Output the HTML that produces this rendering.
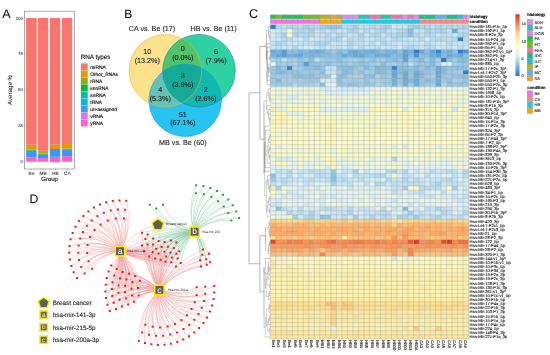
<!DOCTYPE html>
<html lang="en"><head><meta charset="utf-8"><title>Figure</title>
<style>
html,body{margin:0;padding:0;background:#fff;}
body{width:550px;height:355px;overflow:hidden;}
svg{display:block;font-family:'Liberation Sans', Arial, sans-serif;}
</style></head><body>
<svg width="550" height="355" viewBox="0 0 550 355" shape-rendering="auto" text-rendering="geometricPrecision">
<rect width="550" height="355" fill="#fff"/>
<g id="panelA">
<text x="2.20" y="17.50" font-size="12.5" text-anchor="start" fill="#000">A</text>
<rect x="24.6" y="11.2" width="49.80" height="157.80" fill="#fff" stroke="#7a7a7a" stroke-width="0.6"/>
<rect x="26.10" y="157.60" width="10.60" height="4.20" fill="#FF60C8"/>
<rect x="26.10" y="150.60" width="10.60" height="7.00" fill="#3A97FC"/>
<rect x="26.10" y="149.70" width="10.60" height="0.90" fill="#00B26A"/>
<rect x="26.10" y="144.80" width="10.60" height="4.90" fill="#E39A00"/>
<rect x="26.10" y="18.00" width="10.60" height="126.80" fill="#F8766D"/>
<rect x="38.00" y="158.10" width="10.20" height="3.70" fill="#FF60C8"/>
<rect x="38.00" y="154.70" width="10.20" height="3.40" fill="#3A97FC"/>
<rect x="38.00" y="153.60" width="10.20" height="1.10" fill="#00B26A"/>
<rect x="38.00" y="150.80" width="10.20" height="2.80" fill="#E39A00"/>
<rect x="38.00" y="18.00" width="10.20" height="132.80" fill="#F8766D"/>
<rect x="49.90" y="156.80" width="10.40" height="5.40" fill="#FF60C8"/>
<rect x="49.90" y="150.00" width="10.40" height="6.80" fill="#3A97FC"/>
<rect x="49.90" y="149.10" width="10.40" height="0.90" fill="#00B26A"/>
<rect x="49.90" y="144.80" width="10.40" height="4.30" fill="#E39A00"/>
<rect x="49.90" y="18.00" width="10.40" height="126.80" fill="#F8766D"/>
<rect x="62.00" y="156.10" width="10.20" height="5.70" fill="#FF60C8"/>
<rect x="62.00" y="149.70" width="10.20" height="6.40" fill="#3A97FC"/>
<rect x="62.00" y="148.80" width="10.20" height="0.90" fill="#00B26A"/>
<rect x="62.00" y="144.00" width="10.20" height="4.80" fill="#E39A00"/>
<rect x="62.00" y="18.00" width="10.20" height="126.00" fill="#F8766D"/>
<line x1="23.6" x2="24.6" y1="161.80" y2="161.80" stroke="#444" stroke-width="0.4"/>
<text x="22.80" y="163.30" font-size="4.3" text-anchor="end" fill="#4d4d4d" stroke="#4d4d4d" stroke-width="0.112">0</text>
<line x1="23.6" x2="24.6" y1="125.85" y2="125.85" stroke="#444" stroke-width="0.4"/>
<text x="22.80" y="127.35" font-size="4.3" text-anchor="end" fill="#4d4d4d" stroke="#4d4d4d" stroke-width="0.112">25</text>
<line x1="23.6" x2="24.6" y1="89.90" y2="89.90" stroke="#444" stroke-width="0.4"/>
<text x="22.80" y="91.40" font-size="4.3" text-anchor="end" fill="#4d4d4d" stroke="#4d4d4d" stroke-width="0.112">50</text>
<line x1="23.6" x2="24.6" y1="53.95" y2="53.95" stroke="#444" stroke-width="0.4"/>
<text x="22.80" y="55.45" font-size="4.3" text-anchor="end" fill="#4d4d4d" stroke="#4d4d4d" stroke-width="0.112">75</text>
<line x1="23.6" x2="24.6" y1="18.00" y2="18.00" stroke="#444" stroke-width="0.4"/>
<text x="22.80" y="19.50" font-size="4.3" text-anchor="end" fill="#4d4d4d" stroke="#4d4d4d" stroke-width="0.112">100</text>
<line x1="31.4" x2="31.4" y1="169.0" y2="170.2" stroke="#444" stroke-width="0.4"/>
<text x="31.40" y="174.50" font-size="4.8" text-anchor="middle" fill="#4d4d4d" stroke="#4d4d4d" stroke-width="0.125">Be</text>
<line x1="43.1" x2="43.1" y1="169.0" y2="170.2" stroke="#444" stroke-width="0.4"/>
<text x="43.10" y="174.50" font-size="4.8" text-anchor="middle" fill="#4d4d4d" stroke="#4d4d4d" stroke-width="0.125">MB</text>
<line x1="55.4" x2="55.4" y1="169.0" y2="170.2" stroke="#444" stroke-width="0.4"/>
<text x="55.40" y="174.50" font-size="4.8" text-anchor="middle" fill="#4d4d4d" stroke="#4d4d4d" stroke-width="0.125">HB</text>
<line x1="67.3" x2="67.3" y1="169.0" y2="170.2" stroke="#444" stroke-width="0.4"/>
<text x="67.30" y="174.50" font-size="4.8" text-anchor="middle" fill="#4d4d4d" stroke="#4d4d4d" stroke-width="0.125">CA</text>
<text x="49.60" y="180.60" font-size="6" text-anchor="middle" fill="#000" stroke="#000" stroke-width="0.090">Group</text>
<text transform="translate(11.9,90) rotate(-90)" font-size="6.2" text-anchor="middle">Average %</text>
<text x="80.70" y="59.00" font-size="6.3" text-anchor="start" fill="#000" stroke="#000" stroke-width="0.095">RNA types</text>
<rect x="80.9" y="63.40" width="6.8" height="6.8" fill="#F8766D"/>
<text x="90.30" y="68.50" font-size="4.9" text-anchor="start" fill="#000" stroke="#000" stroke-width="0.127">miRNA</text>
<rect x="80.9" y="70.43" width="6.8" height="6.8" fill="#E39A00"/>
<text x="90.30" y="75.53" font-size="4.9" text-anchor="start" fill="#000" stroke="#000" stroke-width="0.127">Other_RNAs</text>
<rect x="80.9" y="77.46" width="6.8" height="6.8" fill="#93AA00"/>
<text x="90.30" y="82.56" font-size="4.9" text-anchor="start" fill="#000" stroke="#000" stroke-width="0.127">rRNA</text>
<rect x="80.9" y="84.49" width="6.8" height="6.8" fill="#00BA38"/>
<text x="90.30" y="89.59" font-size="4.9" text-anchor="start" fill="#000" stroke="#000" stroke-width="0.127">snoRNA</text>
<rect x="80.9" y="91.52" width="6.8" height="6.8" fill="#00C19F"/>
<text x="90.30" y="96.62" font-size="4.9" text-anchor="start" fill="#000" stroke="#000" stroke-width="0.127">snRNA</text>
<rect x="80.9" y="98.55" width="6.8" height="6.8" fill="#00B9E3"/>
<text x="90.30" y="103.65" font-size="4.9" text-anchor="start" fill="#000" stroke="#000" stroke-width="0.127">tRNA</text>
<rect x="80.9" y="105.58" width="6.8" height="6.8" fill="#3A97FC"/>
<text x="90.30" y="110.68" font-size="4.9" text-anchor="start" fill="#000" stroke="#000" stroke-width="0.127">un-assigned</text>
<rect x="80.9" y="112.61" width="6.8" height="6.8" fill="#DB72FB"/>
<text x="90.30" y="117.71" font-size="4.9" text-anchor="start" fill="#000" stroke="#000" stroke-width="0.127">vRNA</text>
<rect x="80.9" y="119.64" width="6.8" height="6.8" fill="#FF60C8"/>
<text x="90.30" y="124.74" font-size="4.9" text-anchor="start" fill="#000" stroke="#000" stroke-width="0.127">yRNA</text>
</g>
<g id="panelB">
<text x="124.20" y="17.80" font-size="12" text-anchor="start" fill="#000">B</text>
<defs><clipPath id="cy"><circle cx="165.4" cy="70.7" r="36.3" /></clipPath><clipPath id="cg"><circle cx="199.0" cy="70.7" r="36.3" /></clipPath></defs>
<circle cx="165.4" cy="70.7" r="36.3" fill="#FCE28C"/>
<circle cx="199.0" cy="70.7" r="36.3" fill="#2DD2A0"/>
<circle cx="185.2" cy="100.3" r="36.3" fill="#28C3F0"/>
<circle cx="199.0" cy="70.7" r="36.3" fill="#50C369" clip-path="url(#cy)"/>
<circle cx="185.2" cy="100.3" r="36.3" fill="#64C3B4" clip-path="url(#cy)"/>
<circle cx="185.2" cy="100.3" r="36.3" fill="#0FB9AF" clip-path="url(#cg)"/>
<g clip-path="url(#cy)"><circle cx="185.2" cy="100.3" r="36.3" fill="#14AA96" clip-path="url(#cg)"/></g>
<circle cx="165.4" cy="70.7" r="36.3" fill="none" stroke="#E5B93A" stroke-width="0.6"/>
<circle cx="199.0" cy="70.7" r="36.3" fill="none" stroke="#1F80B8" stroke-width="0.6"/>
<circle cx="185.2" cy="100.3" r="36.3" fill="none" stroke="#1C9AD8" stroke-width="0.6"/>
<text x="152.00" y="30.90" font-size="7.2" text-anchor="middle" fill="#222" stroke="#222" stroke-width="0.108">CA vs. Be (17)</text>
<text x="213.60" y="30.90" font-size="7.2" text-anchor="middle" fill="#222" stroke="#222" stroke-width="0.108">HB vs. Be (11)</text>
<text x="182.80" y="145.20" font-size="7.2" text-anchor="middle" fill="#222" stroke="#222" stroke-width="0.108">MB vs. Be (60)</text>
<text x="147.30" y="54.00" font-size="7.2" text-anchor="middle" fill="#1a1a1a" stroke="#1a1a1a" stroke-width="0.108">10</text>
<text x="147.30" y="62.80" font-size="7.2" text-anchor="middle" fill="#1a1a1a" stroke="#1a1a1a" stroke-width="0.108">(13.2%)</text>
<text x="182.80" y="51.00" font-size="7.2" text-anchor="middle" fill="#1a1a1a" stroke="#1a1a1a" stroke-width="0.108">0</text>
<text x="182.80" y="59.80" font-size="7.2" text-anchor="middle" fill="#1a1a1a" stroke="#1a1a1a" stroke-width="0.108">(0.0%)</text>
<text x="216.00" y="54.00" font-size="7.2" text-anchor="middle" fill="#1a1a1a" stroke="#1a1a1a" stroke-width="0.108">6</text>
<text x="216.00" y="62.80" font-size="7.2" text-anchor="middle" fill="#1a1a1a" stroke="#1a1a1a" stroke-width="0.108">(7.9%)</text>
<text x="182.80" y="78.30" font-size="7.2" text-anchor="middle" fill="#1a1a1a" stroke="#1a1a1a" stroke-width="0.108">3</text>
<text x="182.80" y="87.10" font-size="7.2" text-anchor="middle" fill="#1a1a1a" stroke="#1a1a1a" stroke-width="0.108">(3.9%)</text>
<text x="160.30" y="91.70" font-size="7.2" text-anchor="middle" fill="#1a1a1a" stroke="#1a1a1a" stroke-width="0.108">4</text>
<text x="160.30" y="100.50" font-size="7.2" text-anchor="middle" fill="#1a1a1a" stroke="#1a1a1a" stroke-width="0.108">(5.3%)</text>
<text x="205.80" y="91.70" font-size="7.2" text-anchor="middle" fill="#1a1a1a" stroke="#1a1a1a" stroke-width="0.108">2</text>
<text x="205.80" y="100.50" font-size="7.2" text-anchor="middle" fill="#1a1a1a" stroke="#1a1a1a" stroke-width="0.108">(2.6%)</text>
<text x="182.80" y="116.60" font-size="7.2" text-anchor="middle" fill="#1a1a1a" stroke="#1a1a1a" stroke-width="0.108">51</text>
<text x="182.80" y="125.40" font-size="7.2" text-anchor="middle" fill="#1a1a1a" stroke="#1a1a1a" stroke-width="0.108">(67.1%)</text>
</g>
<g id="panelC">
<text x="249.00" y="17.90" font-size="12.7" text-anchor="start" fill="#000">C</text>
<rect x="270.30" y="14.9" width="5.508" height="3.9" fill="#10CA4E" stroke="#8C8C8C" stroke-width="0.32"/>
<rect x="270.30" y="19.7" width="5.508" height="3.9" fill="#F96EE6" stroke="#8C8C8C" stroke-width="0.32"/>
<rect x="275.81" y="14.9" width="5.508" height="3.9" fill="#6DC016" stroke="#8C8C8C" stroke-width="0.32"/>
<rect x="275.81" y="19.7" width="5.508" height="3.9" fill="#F96EE6" stroke="#8C8C8C" stroke-width="0.32"/>
<rect x="281.32" y="14.9" width="5.508" height="3.9" fill="#10CA4E" stroke="#8C8C8C" stroke-width="0.32"/>
<rect x="281.32" y="19.7" width="5.508" height="3.9" fill="#F96EE6" stroke="#8C8C8C" stroke-width="0.32"/>
<rect x="286.82" y="14.9" width="5.508" height="3.9" fill="#10CA4E" stroke="#8C8C8C" stroke-width="0.32"/>
<rect x="286.82" y="19.7" width="5.508" height="3.9" fill="#F96EE6" stroke="#8C8C8C" stroke-width="0.32"/>
<rect x="292.33" y="14.9" width="5.508" height="3.9" fill="#10CA4E" stroke="#8C8C8C" stroke-width="0.32"/>
<rect x="292.33" y="19.7" width="5.508" height="3.9" fill="#F96EE6" stroke="#8C8C8C" stroke-width="0.32"/>
<rect x="297.84" y="14.9" width="5.508" height="3.9" fill="#10CA4E" stroke="#8C8C8C" stroke-width="0.32"/>
<rect x="297.84" y="19.7" width="5.508" height="3.9" fill="#F96EE6" stroke="#8C8C8C" stroke-width="0.32"/>
<rect x="303.35" y="14.9" width="5.508" height="3.9" fill="#6DC016" stroke="#8C8C8C" stroke-width="0.32"/>
<rect x="303.35" y="19.7" width="5.508" height="3.9" fill="#F96EE6" stroke="#8C8C8C" stroke-width="0.32"/>
<rect x="308.86" y="14.9" width="5.508" height="3.9" fill="#6DC016" stroke="#8C8C8C" stroke-width="0.32"/>
<rect x="308.86" y="19.7" width="5.508" height="3.9" fill="#F96EE6" stroke="#8C8C8C" stroke-width="0.32"/>
<rect x="314.36" y="14.9" width="5.508" height="3.9" fill="#6DC016" stroke="#8C8C8C" stroke-width="0.32"/>
<rect x="314.36" y="19.7" width="5.508" height="3.9" fill="#F96EE6" stroke="#8C8C8C" stroke-width="0.32"/>
<rect x="319.87" y="14.9" width="5.508" height="3.9" fill="#B8B414" stroke="#8C8C8C" stroke-width="0.32"/>
<rect x="319.87" y="19.7" width="5.508" height="3.9" fill="#F3A713" stroke="#8C8C8C" stroke-width="0.32"/>
<rect x="325.38" y="14.9" width="5.508" height="3.9" fill="#B8B414" stroke="#8C8C8C" stroke-width="0.32"/>
<rect x="325.38" y="19.7" width="5.508" height="3.9" fill="#F3A713" stroke="#8C8C8C" stroke-width="0.32"/>
<rect x="330.89" y="14.9" width="5.508" height="3.9" fill="#FB9B3A" stroke="#8C8C8C" stroke-width="0.32"/>
<rect x="330.89" y="19.7" width="5.508" height="3.9" fill="#F3A713" stroke="#8C8C8C" stroke-width="0.32"/>
<rect x="336.40" y="14.9" width="5.508" height="3.9" fill="#B8B414" stroke="#8C8C8C" stroke-width="0.32"/>
<rect x="336.40" y="19.7" width="5.508" height="3.9" fill="#F3A713" stroke="#8C8C8C" stroke-width="0.32"/>
<rect x="341.90" y="14.9" width="5.508" height="3.9" fill="#E08BF3" stroke="#8C8C8C" stroke-width="0.32"/>
<rect x="341.90" y="19.7" width="5.508" height="3.9" fill="#14CFE6" stroke="#8C8C8C" stroke-width="0.32"/>
<rect x="347.41" y="14.9" width="5.508" height="3.9" fill="#E08BF3" stroke="#8C8C8C" stroke-width="0.32"/>
<rect x="347.41" y="19.7" width="5.508" height="3.9" fill="#14CFE6" stroke="#8C8C8C" stroke-width="0.32"/>
<rect x="352.92" y="14.9" width="5.508" height="3.9" fill="#E08BF3" stroke="#8C8C8C" stroke-width="0.32"/>
<rect x="352.92" y="19.7" width="5.508" height="3.9" fill="#14CFE6" stroke="#8C8C8C" stroke-width="0.32"/>
<rect x="358.43" y="14.9" width="5.508" height="3.9" fill="#1CC8B8" stroke="#8C8C8C" stroke-width="0.32"/>
<rect x="358.43" y="19.7" width="5.508" height="3.9" fill="#14CFE6" stroke="#8C8C8C" stroke-width="0.32"/>
<rect x="363.94" y="14.9" width="5.508" height="3.9" fill="#1CC8B8" stroke="#8C8C8C" stroke-width="0.32"/>
<rect x="363.94" y="19.7" width="5.508" height="3.9" fill="#14CFE6" stroke="#8C8C8C" stroke-width="0.32"/>
<rect x="369.44" y="14.9" width="5.508" height="3.9" fill="#FB6CB7" stroke="#8C8C8C" stroke-width="0.32"/>
<rect x="369.44" y="19.7" width="5.508" height="3.9" fill="#14CFE6" stroke="#8C8C8C" stroke-width="0.32"/>
<rect x="374.95" y="14.9" width="5.508" height="3.9" fill="#FB6CB7" stroke="#8C8C8C" stroke-width="0.32"/>
<rect x="374.95" y="19.7" width="5.508" height="3.9" fill="#14CFE6" stroke="#8C8C8C" stroke-width="0.32"/>
<rect x="380.46" y="14.9" width="5.508" height="3.9" fill="#1CC8B8" stroke="#8C8C8C" stroke-width="0.32"/>
<rect x="380.46" y="19.7" width="5.508" height="3.9" fill="#14CFE6" stroke="#8C8C8C" stroke-width="0.32"/>
<rect x="385.97" y="14.9" width="5.508" height="3.9" fill="#1CC8B8" stroke="#8C8C8C" stroke-width="0.32"/>
<rect x="385.97" y="19.7" width="5.508" height="3.9" fill="#14CFE6" stroke="#8C8C8C" stroke-width="0.32"/>
<rect x="391.48" y="14.9" width="5.508" height="3.9" fill="#FB6CB7" stroke="#8C8C8C" stroke-width="0.32"/>
<rect x="391.48" y="19.7" width="5.508" height="3.9" fill="#14CFE6" stroke="#8C8C8C" stroke-width="0.32"/>
<rect x="396.98" y="14.9" width="5.508" height="3.9" fill="#FB6CB7" stroke="#8C8C8C" stroke-width="0.32"/>
<rect x="396.98" y="19.7" width="5.508" height="3.9" fill="#14CFE6" stroke="#8C8C8C" stroke-width="0.32"/>
<rect x="402.49" y="14.9" width="5.508" height="3.9" fill="#E08BF3" stroke="#8C8C8C" stroke-width="0.32"/>
<rect x="402.49" y="19.7" width="5.508" height="3.9" fill="#14CFE6" stroke="#8C8C8C" stroke-width="0.32"/>
<rect x="408.00" y="14.9" width="5.508" height="3.9" fill="#FB6CB7" stroke="#8C8C8C" stroke-width="0.32"/>
<rect x="408.00" y="19.7" width="5.508" height="3.9" fill="#14CFE6" stroke="#8C8C8C" stroke-width="0.32"/>
<rect x="413.51" y="14.9" width="5.508" height="3.9" fill="#E08BF3" stroke="#8C8C8C" stroke-width="0.32"/>
<rect x="413.51" y="19.7" width="5.508" height="3.9" fill="#14CFE6" stroke="#8C8C8C" stroke-width="0.32"/>
<rect x="419.02" y="14.9" width="5.508" height="3.9" fill="#0CC77E" stroke="#8C8C8C" stroke-width="0.32"/>
<rect x="419.02" y="19.7" width="5.508" height="3.9" fill="#F38B85" stroke="#8C8C8C" stroke-width="0.32"/>
<rect x="424.52" y="14.9" width="5.508" height="3.9" fill="#0CC77E" stroke="#8C8C8C" stroke-width="0.32"/>
<rect x="424.52" y="19.7" width="5.508" height="3.9" fill="#F38B85" stroke="#8C8C8C" stroke-width="0.32"/>
<rect x="430.03" y="14.9" width="5.508" height="3.9" fill="#0CC77E" stroke="#8C8C8C" stroke-width="0.32"/>
<rect x="430.03" y="19.7" width="5.508" height="3.9" fill="#F38B85" stroke="#8C8C8C" stroke-width="0.32"/>
<rect x="435.54" y="14.9" width="5.508" height="3.9" fill="#58B2FB" stroke="#8C8C8C" stroke-width="0.32"/>
<rect x="435.54" y="19.7" width="5.508" height="3.9" fill="#F38B85" stroke="#8C8C8C" stroke-width="0.32"/>
<rect x="441.05" y="14.9" width="5.508" height="3.9" fill="#58B2FB" stroke="#8C8C8C" stroke-width="0.32"/>
<rect x="441.05" y="19.7" width="5.508" height="3.9" fill="#F38B85" stroke="#8C8C8C" stroke-width="0.32"/>
<rect x="446.56" y="14.9" width="5.508" height="3.9" fill="#0CC77E" stroke="#8C8C8C" stroke-width="0.32"/>
<rect x="446.56" y="19.7" width="5.508" height="3.9" fill="#F38B85" stroke="#8C8C8C" stroke-width="0.32"/>
<rect x="452.06" y="14.9" width="5.508" height="3.9" fill="#0CC77E" stroke="#8C8C8C" stroke-width="0.32"/>
<rect x="452.06" y="19.7" width="5.508" height="3.9" fill="#F38B85" stroke="#8C8C8C" stroke-width="0.32"/>
<rect x="457.57" y="14.9" width="5.508" height="3.9" fill="#19C0EA" stroke="#8C8C8C" stroke-width="0.32"/>
<rect x="457.57" y="19.7" width="5.508" height="3.9" fill="#F38B85" stroke="#8C8C8C" stroke-width="0.32"/>
<rect x="463.08" y="14.9" width="5.508" height="3.9" fill="#F07BEF" stroke="#8C8C8C" stroke-width="0.32"/>
<rect x="463.08" y="19.7" width="5.508" height="3.9" fill="#F38B85" stroke="#8C8C8C" stroke-width="0.32"/>
<g transform="translate(270.3,24.74) scale(5.508,4.135)">
<path fill="#2A7DC8" d="M0 0h1v1h-1zM34 3h1v1h-1zM26 6h1v1h-1zM34 6h1v1h-1zM31 8h1v1h-1zM35 11h1v1h-1z"/>
<path fill="#3182CA" d="M3 10h1v1h-1z"/>
<path fill="#3786CC" d="M30 6h1v1h-1zM22 10h1v1h-1z"/>
<path fill="#4A94D1" d="M35 6h1v1h-1zM26 7h1v1h-1z"/>
<path fill="#569CD5" d="M2 6h1v1h-1zM2 7h1v1h-1zM30 7h1v1h-1zM6 9h1v1h-1z"/>
<path fill="#5CA1D7" d="M24 7h1v1h-1z"/>
<path fill="#63A6D9" d="M24 6h1v1h-1zM27 6h1v1h-1zM29 6h1v1h-1zM1 7h1v1h-1zM5 7h1v1h-1zM16 7h1v1h-1zM24 8h1v1h-1zM30 11h1v1h-1zM30 14h1v1h-1z"/>
<path fill="#69AADB" d="M33 1h1v1h-1zM0 6h1v1h-1zM8 6h1v1h-1zM15 6h1v1h-1zM18 6h1v1h-1zM4 7h1v1h-1zM13 7h1v1h-1zM15 7h1v1h-1zM19 7h1v1h-1zM29 7h1v1h-1zM32 7h1v1h-1zM34 7h1v1h-1zM30 10h1v1h-1zM22 11h1v1h-1zM22 12h1v1h-1zM30 12h1v1h-1zM26 13h1v1h-1z"/>
<path fill="#6FAEDD" d="M7 6h1v1h-1zM14 6h1v1h-1zM17 6h1v1h-1zM22 6h1v1h-1zM32 6h1v1h-1zM3 7h1v1h-1zM20 7h1v1h-1zM21 7h1v1h-1zM24 11h1v1h-1zM26 11h1v1h-1zM24 12h1v1h-1zM26 12h1v1h-1zM22 13h1v1h-1zM24 13h1v1h-1zM30 13h1v1h-1zM26 14h1v1h-1z"/>
<path fill="#75B3DF" d="M1 6h1v1h-1zM5 6h1v1h-1zM9 6h1v1h-1zM16 6h1v1h-1zM19 6h1v1h-1zM21 6h1v1h-1zM25 6h1v1h-1zM0 7h1v1h-1zM7 7h1v1h-1zM14 7h1v1h-1zM17 7h1v1h-1zM33 7h1v1h-1zM22 14h1v1h-1zM24 14h1v1h-1z"/>
<path fill="#7CB8E1" d="M6 6h1v1h-1zM20 6h1v1h-1zM31 6h1v1h-1zM6 7h1v1h-1zM8 7h1v1h-1zM23 7h1v1h-1zM1 10h1v1h-1zM19 10h1v1h-1z"/>
<path fill="#82BCE3" d="M12 6h1v1h-1zM9 7h1v1h-1zM12 7h1v1h-1zM18 7h1v1h-1zM22 7h1v1h-1zM25 7h1v1h-1zM31 7h1v1h-1zM27 8h1v1h-1zM29 8h1v1h-1zM29 9h1v1h-1zM8 10h1v1h-1zM14 10h1v1h-1zM17 10h1v1h-1zM20 10h1v1h-1zM26 10h1v1h-1zM28 10h1v1h-1zM31 10h1v1h-1zM1 11h1v1h-1zM2 11h1v1h-1zM19 11h1v1h-1zM23 11h1v1h-1zM27 11h1v1h-1zM31 11h1v1h-1zM5 12h1v1h-1zM7 12h1v1h-1zM18 12h1v1h-1zM27 12h1v1h-1zM1 13h1v1h-1zM25 13h1v1h-1zM28 13h1v1h-1zM24 44h1v1h-1z"/>
<path fill="#88C0E4" d="M25 1h1v1h-1zM3 6h1v1h-1zM4 6h1v1h-1zM10 6h1v1h-1zM23 6h1v1h-1zM28 6h1v1h-1zM33 6h1v1h-1zM10 7h1v1h-1zM27 7h1v1h-1zM28 7h1v1h-1zM35 7h1v1h-1zM7 8h1v1h-1zM12 8h1v1h-1zM22 8h1v1h-1zM34 8h1v1h-1zM35 8h1v1h-1zM7 9h1v1h-1zM20 9h1v1h-1zM6 10h1v1h-1zM13 10h1v1h-1zM21 10h1v1h-1zM23 10h1v1h-1zM24 10h1v1h-1zM9 11h1v1h-1zM13 11h1v1h-1zM14 11h1v1h-1zM16 11h1v1h-1zM20 11h1v1h-1zM4 12h1v1h-1zM6 12h1v1h-1zM12 12h1v1h-1zM13 12h1v1h-1zM17 12h1v1h-1zM34 12h1v1h-1zM35 12h1v1h-1zM9 14h1v1h-1zM14 14h1v1h-1zM0 36h1v1h-1zM1 44h1v1h-1z"/>
<path fill="#8DC3E6" d="M25 2h1v1h-1zM13 6h1v1h-1zM11 7h1v1h-1zM18 8h1v1h-1zM21 8h1v1h-1zM32 8h1v1h-1zM8 9h1v1h-1zM10 9h1v1h-1zM16 9h1v1h-1zM7 10h1v1h-1zM9 10h1v1h-1zM12 10h1v1h-1zM33 10h1v1h-1zM34 10h1v1h-1zM35 10h1v1h-1zM25 11h1v1h-1zM28 11h1v1h-1zM12 13h1v1h-1zM29 13h1v1h-1zM32 13h1v1h-1zM35 13h1v1h-1zM15 14h1v1h-1zM17 14h1v1h-1zM27 14h1v1h-1zM32 14h1v1h-1zM34 14h1v1h-1zM11 36h1v1h-1zM11 37h1v1h-1zM9 46h1v1h-1z"/>
<path fill="#92C6E7" d="M5 8h1v1h-1zM23 8h1v1h-1zM26 8h1v1h-1zM5 9h1v1h-1zM17 9h1v1h-1zM35 9h1v1h-1zM2 10h1v1h-1zM15 10h1v1h-1zM25 10h1v1h-1zM29 10h1v1h-1zM32 10h1v1h-1zM0 11h1v1h-1zM3 11h1v1h-1zM4 11h1v1h-1zM5 11h1v1h-1zM7 11h1v1h-1zM20 12h1v1h-1zM23 12h1v1h-1zM25 12h1v1h-1zM31 12h1v1h-1zM33 12h1v1h-1zM7 13h1v1h-1zM17 13h1v1h-1zM23 13h1v1h-1zM27 13h1v1h-1zM12 14h1v1h-1zM18 14h1v1h-1zM11 35h1v1h-1zM10 46h1v1h-1z"/>
<path fill="#97C9E8" d="M10 0h1v1h-1zM11 0h1v1h-1zM12 0h1v1h-1zM11 6h1v1h-1zM1 8h1v1h-1zM10 8h1v1h-1zM16 8h1v1h-1zM9 9h1v1h-1zM12 9h1v1h-1zM13 9h1v1h-1zM15 9h1v1h-1zM23 9h1v1h-1zM24 9h1v1h-1zM26 9h1v1h-1zM27 9h1v1h-1zM28 9h1v1h-1zM34 9h1v1h-1zM0 10h1v1h-1zM18 10h1v1h-1zM27 10h1v1h-1zM21 11h1v1h-1zM29 11h1v1h-1zM32 11h1v1h-1zM0 12h1v1h-1zM2 12h1v1h-1zM8 12h1v1h-1zM9 12h1v1h-1zM10 12h1v1h-1zM0 13h1v1h-1zM6 13h1v1h-1zM8 13h1v1h-1zM31 13h1v1h-1zM3 14h1v1h-1zM13 14h1v1h-1zM16 14h1v1h-1zM33 14h1v1h-1zM35 14h1v1h-1z"/>
<path fill="#9CCCE9" d="M6 8h1v1h-1zM11 8h1v1h-1zM25 8h1v1h-1zM1 9h1v1h-1zM3 9h1v1h-1zM11 9h1v1h-1zM5 10h1v1h-1zM16 10h1v1h-1zM6 11h1v1h-1zM8 11h1v1h-1zM12 11h1v1h-1zM15 11h1v1h-1zM18 11h1v1h-1zM33 11h1v1h-1zM1 12h1v1h-1zM3 12h1v1h-1zM21 12h1v1h-1zM28 12h1v1h-1zM32 12h1v1h-1zM4 13h1v1h-1zM14 13h1v1h-1zM15 13h1v1h-1zM20 13h1v1h-1zM21 13h1v1h-1zM34 13h1v1h-1zM1 14h1v1h-1zM2 14h1v1h-1zM5 14h1v1h-1zM20 14h1v1h-1zM21 14h1v1h-1zM23 14h1v1h-1zM25 14h1v1h-1zM28 14h1v1h-1zM15 35h1v1h-1zM0 37h1v1h-1z"/>
<path fill="#A2CFEB" d="M9 0h1v1h-1zM15 0h1v1h-1zM21 0h1v1h-1zM26 0h1v1h-1zM3 8h1v1h-1zM9 8h1v1h-1zM13 8h1v1h-1zM17 8h1v1h-1zM19 8h1v1h-1zM20 8h1v1h-1zM28 8h1v1h-1zM30 8h1v1h-1zM33 8h1v1h-1zM2 9h1v1h-1zM14 9h1v1h-1zM18 9h1v1h-1zM19 9h1v1h-1zM21 9h1v1h-1zM33 9h1v1h-1zM4 10h1v1h-1zM17 11h1v1h-1zM34 11h1v1h-1zM14 12h1v1h-1zM16 12h1v1h-1zM29 12h1v1h-1zM2 13h1v1h-1zM3 13h1v1h-1zM5 13h1v1h-1zM13 13h1v1h-1zM16 13h1v1h-1zM18 13h1v1h-1zM19 13h1v1h-1zM0 14h1v1h-1zM6 14h1v1h-1zM7 14h1v1h-1zM29 14h1v1h-1zM22 35h1v1h-1zM24 39h1v1h-1zM33 39h1v1h-1zM4 46h1v1h-1zM15 46h1v1h-1zM26 46h1v1h-1z"/>
<path fill="#A7D2EC" d="M6 0h1v1h-1zM20 0h1v1h-1zM25 0h1v1h-1zM35 0h1v1h-1zM0 8h1v1h-1zM4 8h1v1h-1zM14 8h1v1h-1zM15 8h1v1h-1zM4 9h1v1h-1zM22 9h1v1h-1zM30 9h1v1h-1zM15 12h1v1h-1zM19 12h1v1h-1zM33 13h1v1h-1zM19 14h1v1h-1zM11 38h1v1h-1zM1 39h1v1h-1zM30 44h1v1h-1zM25 45h1v1h-1zM23 46h1v1h-1z"/>
<path fill="#ACD5ED" d="M7 1h1v1h-1zM14 1h1v1h-1zM20 1h1v1h-1zM24 1h1v1h-1zM28 1h1v1h-1zM30 1h1v1h-1zM31 1h1v1h-1zM2 2h1v1h-1zM4 2h1v1h-1zM16 2h1v1h-1zM23 2h1v1h-1zM24 2h1v1h-1zM1 4h1v1h-1zM8 4h1v1h-1zM9 4h1v1h-1zM10 4h1v1h-1zM14 4h1v1h-1zM20 4h1v1h-1zM4 14h1v1h-1zM8 14h1v1h-1zM31 14h1v1h-1zM3 35h1v1h-1zM24 35h1v1h-1zM24 37h1v1h-1zM14 45h1v1h-1zM7 46h1v1h-1zM18 46h1v1h-1zM24 46h1v1h-1zM30 46h1v1h-1z"/>
<path fill="#B1D8EE" d="M1 0h1v1h-1zM3 0h1v1h-1zM4 0h1v1h-1zM7 0h1v1h-1zM27 0h1v1h-1zM28 0h1v1h-1zM30 0h1v1h-1zM32 0h1v1h-1zM34 0h1v1h-1zM5 1h1v1h-1zM15 1h1v1h-1zM23 1h1v1h-1zM29 1h1v1h-1zM6 2h1v1h-1zM7 2h1v1h-1zM12 2h1v1h-1zM18 2h1v1h-1zM19 2h1v1h-1zM26 2h1v1h-1zM34 2h1v1h-1zM35 2h1v1h-1zM11 3h1v1h-1zM12 3h1v1h-1zM22 3h1v1h-1zM30 3h1v1h-1zM33 3h1v1h-1zM4 5h1v1h-1zM14 5h1v1h-1zM16 5h1v1h-1zM25 5h1v1h-1zM22 32h1v1h-1zM7 35h1v1h-1zM21 35h1v1h-1zM32 35h1v1h-1zM35 35h1v1h-1zM19 36h1v1h-1zM20 36h1v1h-1zM21 37h1v1h-1zM32 37h1v1h-1zM19 38h1v1h-1zM30 38h1v1h-1zM14 44h1v1h-1zM3 45h1v1h-1zM7 45h1v1h-1zM31 45h1v1h-1z"/>
<path fill="#B6DBF0" d="M5 0h1v1h-1zM8 0h1v1h-1zM14 0h1v1h-1zM18 0h1v1h-1zM19 0h1v1h-1zM31 0h1v1h-1zM33 0h1v1h-1zM4 1h1v1h-1zM6 1h1v1h-1zM9 1h1v1h-1zM11 1h1v1h-1zM19 1h1v1h-1zM5 2h1v1h-1zM10 2h1v1h-1zM13 2h1v1h-1zM21 2h1v1h-1zM22 2h1v1h-1zM28 2h1v1h-1zM2 3h1v1h-1zM3 3h1v1h-1zM6 3h1v1h-1zM14 3h1v1h-1zM16 3h1v1h-1zM20 3h1v1h-1zM23 3h1v1h-1zM27 3h1v1h-1zM29 3h1v1h-1zM31 3h1v1h-1zM2 4h1v1h-1zM18 4h1v1h-1zM28 4h1v1h-1zM32 4h1v1h-1zM19 5h1v1h-1zM24 5h1v1h-1zM28 5h1v1h-1zM29 5h1v1h-1zM29 35h1v1h-1zM3 36h1v1h-1zM35 36h1v1h-1zM2 37h1v1h-1zM13 37h1v1h-1zM26 37h1v1h-1zM20 38h1v1h-1zM2 44h1v1h-1zM10 44h1v1h-1zM21 45h1v1h-1zM35 45h1v1h-1zM6 46h1v1h-1zM20 46h1v1h-1zM29 46h1v1h-1z"/>
<path fill="#BBDEF1" d="M13 0h1v1h-1zM29 0h1v1h-1zM17 1h1v1h-1zM34 1h1v1h-1zM35 1h1v1h-1zM29 2h1v1h-1zM31 2h1v1h-1zM10 3h1v1h-1zM19 3h1v1h-1zM35 3h1v1h-1zM16 4h1v1h-1zM21 4h1v1h-1zM1 5h1v1h-1zM9 5h1v1h-1zM26 5h1v1h-1zM34 5h1v1h-1zM8 8h1v1h-1zM1 35h1v1h-1zM8 35h1v1h-1zM33 35h1v1h-1zM8 36h1v1h-1zM9 36h1v1h-1zM15 36h1v1h-1zM18 36h1v1h-1zM28 36h1v1h-1zM7 37h1v1h-1zM10 37h1v1h-1zM16 37h1v1h-1zM2 38h1v1h-1zM25 38h1v1h-1zM26 38h1v1h-1zM27 39h1v1h-1zM28 39h1v1h-1zM29 39h1v1h-1zM30 39h1v1h-1zM27 40h1v1h-1zM5 44h1v1h-1zM9 44h1v1h-1zM11 44h1v1h-1zM20 44h1v1h-1zM28 44h1v1h-1zM31 44h1v1h-1zM5 45h1v1h-1zM20 45h1v1h-1zM13 46h1v1h-1zM21 46h1v1h-1zM27 46h1v1h-1zM34 46h1v1h-1z"/>
<path fill="#C0E1F2" d="M2 0h1v1h-1zM16 0h1v1h-1zM17 0h1v1h-1zM21 1h1v1h-1zM15 2h1v1h-1zM27 2h1v1h-1zM32 2h1v1h-1zM24 3h1v1h-1zM32 3h1v1h-1zM0 4h1v1h-1zM5 4h1v1h-1zM6 4h1v1h-1zM7 4h1v1h-1zM12 4h1v1h-1zM15 4h1v1h-1zM25 4h1v1h-1zM29 4h1v1h-1zM35 4h1v1h-1zM12 5h1v1h-1zM18 5h1v1h-1zM21 5h1v1h-1zM32 5h1v1h-1zM2 8h1v1h-1zM25 9h1v1h-1zM6 35h1v1h-1zM9 35h1v1h-1zM13 35h1v1h-1zM31 35h1v1h-1zM5 36h1v1h-1zM10 36h1v1h-1zM16 36h1v1h-1zM24 36h1v1h-1zM25 36h1v1h-1zM33 36h1v1h-1zM6 37h1v1h-1zM12 37h1v1h-1zM31 37h1v1h-1zM0 38h1v1h-1zM14 38h1v1h-1zM22 38h1v1h-1zM24 38h1v1h-1zM27 38h1v1h-1zM29 38h1v1h-1zM33 38h1v1h-1zM22 40h1v1h-1zM31 40h1v1h-1zM35 41h1v1h-1zM32 44h1v1h-1zM17 45h1v1h-1zM19 45h1v1h-1zM27 45h1v1h-1zM32 45h1v1h-1zM25 46h1v1h-1z"/>
<path fill="#C6E4F4" d="M2 1h1v1h-1zM8 1h1v1h-1zM10 1h1v1h-1zM13 1h1v1h-1zM22 1h1v1h-1zM27 1h1v1h-1zM32 1h1v1h-1zM1 2h1v1h-1zM9 2h1v1h-1zM14 2h1v1h-1zM20 2h1v1h-1zM9 3h1v1h-1zM15 3h1v1h-1zM18 3h1v1h-1zM26 3h1v1h-1zM17 4h1v1h-1zM22 4h1v1h-1zM24 4h1v1h-1zM26 4h1v1h-1zM33 4h1v1h-1zM0 5h1v1h-1zM2 5h1v1h-1zM3 5h1v1h-1zM5 5h1v1h-1zM11 5h1v1h-1zM17 5h1v1h-1zM20 5h1v1h-1zM22 5h1v1h-1zM27 5h1v1h-1zM31 5h1v1h-1zM35 5h1v1h-1zM10 10h1v1h-1zM10 11h1v1h-1zM11 11h1v1h-1zM2 35h1v1h-1zM5 35h1v1h-1zM10 35h1v1h-1zM14 35h1v1h-1zM17 35h1v1h-1zM23 35h1v1h-1zM26 35h1v1h-1zM30 35h1v1h-1zM12 36h1v1h-1zM13 36h1v1h-1zM17 36h1v1h-1zM1 37h1v1h-1zM3 37h1v1h-1zM4 37h1v1h-1zM8 37h1v1h-1zM14 37h1v1h-1zM22 37h1v1h-1zM23 37h1v1h-1zM25 37h1v1h-1zM30 37h1v1h-1zM33 37h1v1h-1zM6 38h1v1h-1zM17 38h1v1h-1zM23 38h1v1h-1zM32 38h1v1h-1zM22 39h1v1h-1zM23 39h1v1h-1zM26 40h1v1h-1zM29 41h1v1h-1zM33 41h1v1h-1zM34 42h1v1h-1zM25 43h1v1h-1zM3 44h1v1h-1zM12 44h1v1h-1zM16 44h1v1h-1zM17 44h1v1h-1zM22 44h1v1h-1zM29 44h1v1h-1zM35 44h1v1h-1zM12 45h1v1h-1zM13 45h1v1h-1zM24 45h1v1h-1zM17 46h1v1h-1zM33 46h1v1h-1z"/>
<path fill="#CBE7F5" d="M23 0h1v1h-1zM24 0h1v1h-1zM1 1h1v1h-1zM12 1h1v1h-1zM16 1h1v1h-1zM18 1h1v1h-1zM26 1h1v1h-1zM8 2h1v1h-1zM11 2h1v1h-1zM17 2h1v1h-1zM30 2h1v1h-1zM33 2h1v1h-1zM1 3h1v1h-1zM4 3h1v1h-1zM17 3h1v1h-1zM21 3h1v1h-1zM25 3h1v1h-1zM3 4h1v1h-1zM4 4h1v1h-1zM11 4h1v1h-1zM13 4h1v1h-1zM19 4h1v1h-1zM23 4h1v1h-1zM27 4h1v1h-1zM30 4h1v1h-1zM31 4h1v1h-1zM34 4h1v1h-1zM8 5h1v1h-1zM10 5h1v1h-1zM13 5h1v1h-1zM15 5h1v1h-1zM11 10h1v1h-1zM1 36h1v1h-1zM5 37h1v1h-1zM9 37h1v1h-1zM15 37h1v1h-1zM27 37h1v1h-1zM29 37h1v1h-1zM3 38h1v1h-1zM12 38h1v1h-1zM13 38h1v1h-1zM34 38h1v1h-1zM14 39h1v1h-1zM3 40h1v1h-1zM25 40h1v1h-1zM5 41h1v1h-1zM11 41h1v1h-1zM27 41h1v1h-1zM28 41h1v1h-1zM22 42h1v1h-1zM0 43h1v1h-1zM1 43h1v1h-1zM13 44h1v1h-1zM26 44h1v1h-1zM4 45h1v1h-1zM6 45h1v1h-1zM8 45h1v1h-1zM11 45h1v1h-1zM18 45h1v1h-1zM26 45h1v1h-1zM28 45h1v1h-1zM29 45h1v1h-1zM8 46h1v1h-1zM11 46h1v1h-1zM12 46h1v1h-1zM19 46h1v1h-1zM28 46h1v1h-1zM31 46h1v1h-1zM32 46h1v1h-1zM22 56h1v1h-1z"/>
<path fill="#D0EAF6" d="M22 0h1v1h-1zM0 3h1v1h-1zM5 3h1v1h-1zM7 3h1v1h-1zM8 3h1v1h-1zM13 3h1v1h-1zM28 3h1v1h-1zM6 5h1v1h-1zM7 5h1v1h-1zM23 5h1v1h-1zM30 5h1v1h-1zM33 5h1v1h-1zM9 13h1v1h-1zM11 13h1v1h-1zM10 15h1v1h-1zM13 15h1v1h-1zM14 15h1v1h-1zM15 15h1v1h-1zM16 15h1v1h-1zM33 20h1v1h-1zM28 35h1v1h-1zM2 36h1v1h-1zM17 37h1v1h-1zM19 37h1v1h-1zM28 37h1v1h-1zM35 37h1v1h-1zM7 38h1v1h-1zM21 38h1v1h-1zM31 38h1v1h-1zM8 39h1v1h-1zM19 39h1v1h-1zM35 39h1v1h-1zM23 40h1v1h-1zM35 40h1v1h-1zM2 41h1v1h-1zM4 41h1v1h-1zM9 41h1v1h-1zM31 41h1v1h-1zM1 42h1v1h-1zM33 42h1v1h-1zM35 42h1v1h-1zM6 43h1v1h-1zM9 43h1v1h-1zM27 43h1v1h-1zM7 44h1v1h-1zM15 44h1v1h-1zM18 44h1v1h-1zM16 45h1v1h-1zM34 45h1v1h-1zM16 46h1v1h-1zM22 46h1v1h-1zM35 46h1v1h-1z"/>
<path fill="#D5EDF7" d="M0 2h1v1h-1zM10 13h1v1h-1zM9 15h1v1h-1zM12 15h1v1h-1zM24 20h1v1h-1zM24 29h1v1h-1zM1 32h1v1h-1zM3 32h1v1h-1zM34 35h1v1h-1zM7 36h1v1h-1zM21 36h1v1h-1zM26 36h1v1h-1zM30 36h1v1h-1zM34 36h1v1h-1zM1 38h1v1h-1zM4 38h1v1h-1zM10 38h1v1h-1zM28 38h1v1h-1zM35 38h1v1h-1zM5 39h1v1h-1zM6 39h1v1h-1zM18 39h1v1h-1zM21 39h1v1h-1zM4 40h1v1h-1zM9 40h1v1h-1zM33 40h1v1h-1zM23 41h1v1h-1zM34 41h1v1h-1zM8 42h1v1h-1zM9 42h1v1h-1zM12 42h1v1h-1zM26 42h1v1h-1zM19 43h1v1h-1zM23 43h1v1h-1zM35 43h1v1h-1zM8 44h1v1h-1zM33 44h1v1h-1zM10 45h1v1h-1zM15 45h1v1h-1zM5 46h1v1h-1zM14 46h1v1h-1z"/>
<path fill="#DAF0F9" d="M11 15h1v1h-1zM17 15h1v1h-1zM11 16h1v1h-1zM3 17h1v1h-1zM4 17h1v1h-1zM11 20h1v1h-1zM1 29h1v1h-1zM30 29h1v1h-1zM2 32h1v1h-1zM10 34h1v1h-1zM13 34h1v1h-1zM4 35h1v1h-1zM12 35h1v1h-1zM18 35h1v1h-1zM19 35h1v1h-1zM27 35h1v1h-1zM4 36h1v1h-1zM6 36h1v1h-1zM29 36h1v1h-1zM18 37h1v1h-1zM20 37h1v1h-1zM9 38h1v1h-1zM16 39h1v1h-1zM7 40h1v1h-1zM11 40h1v1h-1zM12 40h1v1h-1zM28 40h1v1h-1zM6 41h1v1h-1zM15 41h1v1h-1zM18 41h1v1h-1zM32 41h1v1h-1zM13 42h1v1h-1zM16 42h1v1h-1zM21 42h1v1h-1zM7 43h1v1h-1zM21 43h1v1h-1zM28 43h1v1h-1zM29 43h1v1h-1zM32 43h1v1h-1zM34 43h1v1h-1zM4 44h1v1h-1zM6 44h1v1h-1zM23 44h1v1h-1zM9 45h1v1h-1zM30 45h1v1h-1z"/>
<path fill="#DDF1F7" d="M0 1h1v1h-1zM32 9h1v1h-1zM11 12h1v1h-1zM10 16h1v1h-1zM12 16h1v1h-1zM13 16h1v1h-1zM15 16h1v1h-1zM9 20h1v1h-1zM10 20h1v1h-1zM12 20h1v1h-1zM13 20h1v1h-1zM14 20h1v1h-1zM15 20h1v1h-1zM16 20h1v1h-1zM17 20h1v1h-1zM4 21h1v1h-1zM22 29h1v1h-1zM28 34h1v1h-1zM0 35h1v1h-1zM23 36h1v1h-1zM15 38h1v1h-1zM17 39h1v1h-1zM31 39h1v1h-1zM34 39h1v1h-1zM17 40h1v1h-1zM24 40h1v1h-1zM34 40h1v1h-1zM10 41h1v1h-1zM14 41h1v1h-1zM19 41h1v1h-1zM25 41h1v1h-1zM3 42h1v1h-1zM4 42h1v1h-1zM7 42h1v1h-1zM11 42h1v1h-1zM30 42h1v1h-1zM4 43h1v1h-1zM2 45h1v1h-1zM33 45h1v1h-1z"/>
<path fill="#E0F2F3" d="M31 9h1v1h-1zM14 16h1v1h-1zM16 16h1v1h-1zM17 16h1v1h-1zM3 21h1v1h-1zM5 21h1v1h-1zM4 33h1v1h-1zM12 33h1v1h-1zM17 33h1v1h-1zM24 33h1v1h-1zM31 33h1v1h-1zM32 33h1v1h-1zM0 34h1v1h-1zM1 34h1v1h-1zM3 34h1v1h-1zM24 34h1v1h-1zM26 34h1v1h-1zM29 34h1v1h-1zM30 34h1v1h-1zM16 35h1v1h-1zM20 35h1v1h-1zM25 35h1v1h-1zM14 36h1v1h-1zM27 36h1v1h-1zM32 36h1v1h-1zM34 37h1v1h-1zM8 38h1v1h-1zM16 38h1v1h-1zM18 38h1v1h-1zM15 39h1v1h-1zM5 40h1v1h-1zM16 40h1v1h-1zM32 40h1v1h-1zM13 41h1v1h-1zM0 42h1v1h-1zM6 42h1v1h-1zM23 42h1v1h-1zM2 43h1v1h-1zM14 43h1v1h-1zM26 43h1v1h-1zM0 44h1v1h-1zM19 44h1v1h-1zM21 44h1v1h-1zM34 44h1v1h-1zM22 45h1v1h-1zM23 45h1v1h-1zM11 73h1v1h-1z"/>
<path fill="#E2F3F0" d="M21 15h1v1h-1zM24 15h1v1h-1zM6 33h1v1h-1zM8 33h1v1h-1zM21 33h1v1h-1zM27 33h1v1h-1zM7 34h1v1h-1zM14 34h1v1h-1zM25 34h1v1h-1zM32 34h1v1h-1zM31 36h1v1h-1zM5 38h1v1h-1zM10 39h1v1h-1zM11 39h1v1h-1zM20 39h1v1h-1zM19 40h1v1h-1zM21 40h1v1h-1zM12 41h1v1h-1zM21 41h1v1h-1zM24 41h1v1h-1zM5 42h1v1h-1zM14 42h1v1h-1zM18 42h1v1h-1zM19 42h1v1h-1zM24 42h1v1h-1zM25 42h1v1h-1zM30 43h1v1h-1zM33 43h1v1h-1zM25 44h1v1h-1zM27 44h1v1h-1zM0 45h1v1h-1z"/>
<path fill="#E4F4EC" d="M10 14h1v1h-1zM11 14h1v1h-1zM29 15h1v1h-1zM2 20h1v1h-1zM13 32h1v1h-1zM20 32h1v1h-1zM26 32h1v1h-1zM34 32h1v1h-1zM7 33h1v1h-1zM15 33h1v1h-1zM25 33h1v1h-1zM6 34h1v1h-1zM20 34h1v1h-1zM33 34h1v1h-1zM3 39h1v1h-1zM13 39h1v1h-1zM1 40h1v1h-1zM8 40h1v1h-1zM10 40h1v1h-1zM13 40h1v1h-1zM18 40h1v1h-1zM29 40h1v1h-1zM20 41h1v1h-1zM26 41h1v1h-1zM32 42h1v1h-1zM5 43h1v1h-1zM10 43h1v1h-1zM22 43h1v1h-1zM1 45h1v1h-1z"/>
<path fill="#E6F4E8" d="M18 15h1v1h-1zM2 18h1v1h-1zM3 18h1v1h-1zM9 18h1v1h-1zM12 18h1v1h-1zM1 20h1v1h-1zM18 32h1v1h-1zM19 32h1v1h-1zM32 32h1v1h-1zM29 33h1v1h-1zM4 34h1v1h-1zM19 34h1v1h-1zM31 34h1v1h-1zM7 39h1v1h-1zM6 40h1v1h-1zM14 40h1v1h-1zM15 40h1v1h-1zM20 40h1v1h-1zM30 40h1v1h-1zM0 41h1v1h-1zM3 41h1v1h-1zM7 41h1v1h-1zM30 41h1v1h-1zM2 42h1v1h-1zM31 42h1v1h-1zM31 43h1v1h-1z"/>
<path fill="#E8F5E5" d="M26 15h1v1h-1zM27 15h1v1h-1zM30 15h1v1h-1zM33 15h1v1h-1zM5 16h1v1h-1zM0 18h1v1h-1zM10 18h1v1h-1zM17 18h1v1h-1zM21 18h1v1h-1zM34 18h1v1h-1zM8 32h1v1h-1zM24 32h1v1h-1zM31 32h1v1h-1zM13 33h1v1h-1zM14 33h1v1h-1zM28 33h1v1h-1zM30 33h1v1h-1zM2 34h1v1h-1zM9 34h1v1h-1zM17 34h1v1h-1zM27 34h1v1h-1zM4 39h1v1h-1zM12 39h1v1h-1zM2 40h1v1h-1zM1 41h1v1h-1zM16 41h1v1h-1zM17 41h1v1h-1zM22 41h1v1h-1zM27 42h1v1h-1zM28 42h1v1h-1zM3 43h1v1h-1zM13 43h1v1h-1zM17 43h1v1h-1zM24 43h1v1h-1zM2 46h1v1h-1z"/>
<path fill="#EAF6E1" d="M1 15h1v1h-1zM7 15h1v1h-1zM20 15h1v1h-1zM32 15h1v1h-1zM1 16h1v1h-1zM4 16h1v1h-1zM7 16h1v1h-1zM19 16h1v1h-1zM20 16h1v1h-1zM31 16h1v1h-1zM32 16h1v1h-1zM1 17h1v1h-1zM7 17h1v1h-1zM18 17h1v1h-1zM7 18h1v1h-1zM13 18h1v1h-1zM16 18h1v1h-1zM18 18h1v1h-1zM20 18h1v1h-1zM29 18h1v1h-1zM30 18h1v1h-1zM31 18h1v1h-1zM35 18h1v1h-1zM14 19h1v1h-1zM21 19h1v1h-1zM25 19h1v1h-1zM33 32h1v1h-1zM35 32h1v1h-1zM18 33h1v1h-1zM22 33h1v1h-1zM12 34h1v1h-1zM15 34h1v1h-1zM35 34h1v1h-1zM20 42h1v1h-1zM29 42h1v1h-1zM11 43h1v1h-1zM12 43h1v1h-1zM15 43h1v1h-1zM16 43h1v1h-1zM24 56h1v1h-1zM25 56h1v1h-1zM26 56h1v1h-1z"/>
<path fill="#ECF7DE" d="M0 9h1v1h-1zM0 15h1v1h-1zM3 15h1v1h-1zM4 15h1v1h-1zM5 15h1v1h-1zM6 15h1v1h-1zM8 15h1v1h-1zM19 15h1v1h-1zM25 15h1v1h-1zM35 15h1v1h-1zM24 16h1v1h-1zM25 16h1v1h-1zM5 17h1v1h-1zM8 17h1v1h-1zM14 17h1v1h-1zM19 17h1v1h-1zM23 17h1v1h-1zM4 18h1v1h-1zM5 18h1v1h-1zM23 18h1v1h-1zM27 18h1v1h-1zM4 19h1v1h-1zM10 19h1v1h-1zM24 19h1v1h-1zM28 19h1v1h-1zM30 19h1v1h-1zM33 19h1v1h-1zM34 19h1v1h-1zM4 32h1v1h-1zM23 32h1v1h-1zM0 33h1v1h-1zM3 33h1v1h-1zM23 34h1v1h-1zM8 41h1v1h-1zM10 42h1v1h-1zM17 42h1v1h-1zM20 43h1v1h-1zM0 46h1v1h-1z"/>
<path fill="#EEF7DA" d="M2 15h1v1h-1zM22 15h1v1h-1zM23 15h1v1h-1zM28 15h1v1h-1zM31 15h1v1h-1zM34 15h1v1h-1zM3 16h1v1h-1zM6 16h1v1h-1zM8 16h1v1h-1zM27 16h1v1h-1zM2 17h1v1h-1zM12 17h1v1h-1zM15 17h1v1h-1zM25 17h1v1h-1zM27 17h1v1h-1zM30 17h1v1h-1zM35 17h1v1h-1zM6 18h1v1h-1zM11 18h1v1h-1zM14 18h1v1h-1zM15 18h1v1h-1zM19 18h1v1h-1zM22 18h1v1h-1zM0 19h1v1h-1zM1 19h1v1h-1zM2 19h1v1h-1zM13 19h1v1h-1zM0 21h1v1h-1zM8 21h1v1h-1zM9 21h1v1h-1zM32 21h1v1h-1zM9 32h1v1h-1zM12 32h1v1h-1zM21 32h1v1h-1zM29 32h1v1h-1zM9 33h1v1h-1zM16 34h1v1h-1zM18 34h1v1h-1zM21 34h1v1h-1zM15 42h1v1h-1zM8 43h1v1h-1zM18 43h1v1h-1zM1 46h1v1h-1zM0 56h1v1h-1zM1 56h1v1h-1zM2 56h1v1h-1zM3 56h1v1h-1z"/>
<path fill="#F0F8D7" d="M0 16h1v1h-1zM2 16h1v1h-1zM9 16h1v1h-1zM18 16h1v1h-1zM23 16h1v1h-1zM26 16h1v1h-1zM28 16h1v1h-1zM29 16h1v1h-1zM6 17h1v1h-1zM10 17h1v1h-1zM13 17h1v1h-1zM24 17h1v1h-1zM31 17h1v1h-1zM34 17h1v1h-1zM1 18h1v1h-1zM8 18h1v1h-1zM26 18h1v1h-1zM28 18h1v1h-1zM33 18h1v1h-1zM5 19h1v1h-1zM7 19h1v1h-1zM9 19h1v1h-1zM15 19h1v1h-1zM16 19h1v1h-1zM17 19h1v1h-1zM22 19h1v1h-1zM10 21h1v1h-1zM11 21h1v1h-1zM12 21h1v1h-1zM15 21h1v1h-1zM16 21h1v1h-1zM17 21h1v1h-1zM18 21h1v1h-1zM20 21h1v1h-1zM31 21h1v1h-1zM6 22h1v1h-1zM12 22h1v1h-1zM13 22h1v1h-1zM22 22h1v1h-1zM28 22h1v1h-1zM31 22h1v1h-1zM2 29h1v1h-1zM4 29h1v1h-1zM7 29h1v1h-1zM11 29h1v1h-1zM17 29h1v1h-1zM18 29h1v1h-1zM4 30h1v1h-1zM5 30h1v1h-1zM11 30h1v1h-1zM15 30h1v1h-1zM34 30h1v1h-1zM3 31h1v1h-1zM8 31h1v1h-1zM17 31h1v1h-1zM14 32h1v1h-1zM16 32h1v1h-1zM28 32h1v1h-1zM19 33h1v1h-1zM23 33h1v1h-1zM34 33h1v1h-1zM35 33h1v1h-1zM5 34h1v1h-1zM8 34h1v1h-1zM34 34h1v1h-1zM9 39h1v1h-1z"/>
<path fill="#F2F9D3" d="M21 16h1v1h-1zM22 16h1v1h-1zM30 16h1v1h-1zM34 16h1v1h-1zM35 16h1v1h-1zM9 17h1v1h-1zM11 17h1v1h-1zM16 17h1v1h-1zM21 17h1v1h-1zM28 17h1v1h-1zM32 17h1v1h-1zM24 18h1v1h-1zM25 18h1v1h-1zM32 18h1v1h-1zM19 19h1v1h-1zM26 19h1v1h-1zM29 19h1v1h-1zM31 19h1v1h-1zM32 19h1v1h-1zM23 21h1v1h-1zM27 21h1v1h-1zM30 21h1v1h-1zM35 21h1v1h-1zM5 22h1v1h-1zM14 22h1v1h-1zM15 22h1v1h-1zM20 22h1v1h-1zM29 22h1v1h-1zM5 23h1v1h-1zM14 23h1v1h-1zM20 23h1v1h-1zM26 23h1v1h-1zM32 23h1v1h-1zM8 29h1v1h-1zM9 29h1v1h-1zM10 29h1v1h-1zM20 29h1v1h-1zM25 29h1v1h-1zM26 29h1v1h-1zM29 29h1v1h-1zM33 29h1v1h-1zM0 30h1v1h-1zM2 30h1v1h-1zM7 30h1v1h-1zM16 30h1v1h-1zM17 30h1v1h-1zM19 30h1v1h-1zM20 30h1v1h-1zM21 30h1v1h-1zM28 30h1v1h-1zM29 30h1v1h-1zM32 30h1v1h-1zM5 31h1v1h-1zM6 31h1v1h-1zM9 31h1v1h-1zM11 31h1v1h-1zM12 31h1v1h-1zM14 31h1v1h-1zM23 31h1v1h-1zM35 31h1v1h-1zM15 32h1v1h-1zM5 33h1v1h-1zM10 33h1v1h-1zM26 33h1v1h-1z"/>
<path fill="#F4F9D0" d="M33 16h1v1h-1zM17 17h1v1h-1zM20 17h1v1h-1zM22 17h1v1h-1zM26 17h1v1h-1zM6 19h1v1h-1zM8 19h1v1h-1zM11 19h1v1h-1zM12 19h1v1h-1zM20 19h1v1h-1zM23 19h1v1h-1zM27 19h1v1h-1zM35 19h1v1h-1zM6 21h1v1h-1zM14 21h1v1h-1zM21 21h1v1h-1zM28 21h1v1h-1zM7 22h1v1h-1zM8 22h1v1h-1zM32 22h1v1h-1zM33 22h1v1h-1zM7 23h1v1h-1zM12 23h1v1h-1zM13 23h1v1h-1zM15 23h1v1h-1zM29 23h1v1h-1zM35 23h1v1h-1zM17 24h1v1h-1zM18 24h1v1h-1zM19 24h1v1h-1zM26 24h1v1h-1zM28 24h1v1h-1zM29 24h1v1h-1zM31 24h1v1h-1zM5 25h1v1h-1zM12 25h1v1h-1zM16 25h1v1h-1zM22 25h1v1h-1zM28 25h1v1h-1zM2 26h1v1h-1zM12 26h1v1h-1zM22 26h1v1h-1zM31 26h1v1h-1zM32 26h1v1h-1zM7 27h1v1h-1zM19 27h1v1h-1zM21 27h1v1h-1zM7 28h1v1h-1zM15 28h1v1h-1zM16 28h1v1h-1zM20 28h1v1h-1zM27 28h1v1h-1zM14 29h1v1h-1zM15 29h1v1h-1zM21 29h1v1h-1zM31 29h1v1h-1zM32 29h1v1h-1zM14 30h1v1h-1zM24 30h1v1h-1zM0 31h1v1h-1zM18 31h1v1h-1zM20 31h1v1h-1zM22 31h1v1h-1zM26 31h1v1h-1zM0 32h1v1h-1zM5 32h1v1h-1zM6 32h1v1h-1zM7 32h1v1h-1zM25 32h1v1h-1zM30 32h1v1h-1zM16 33h1v1h-1zM20 33h1v1h-1zM33 33h1v1h-1z"/>
<path fill="#F7FACC" d="M3 2h1v1h-1zM29 17h1v1h-1zM33 17h1v1h-1zM18 19h1v1h-1zM13 21h1v1h-1zM19 21h1v1h-1zM22 21h1v1h-1zM34 21h1v1h-1zM0 22h1v1h-1zM4 22h1v1h-1zM11 22h1v1h-1zM17 22h1v1h-1zM18 22h1v1h-1zM21 22h1v1h-1zM35 22h1v1h-1zM3 23h1v1h-1zM16 23h1v1h-1zM18 23h1v1h-1zM21 23h1v1h-1zM22 23h1v1h-1zM27 23h1v1h-1zM31 23h1v1h-1zM1 24h1v1h-1zM4 24h1v1h-1zM8 24h1v1h-1zM9 24h1v1h-1zM15 24h1v1h-1zM22 24h1v1h-1zM27 24h1v1h-1zM3 25h1v1h-1zM13 25h1v1h-1zM34 25h1v1h-1zM1 26h1v1h-1zM3 26h1v1h-1zM6 26h1v1h-1zM17 26h1v1h-1zM24 26h1v1h-1zM26 26h1v1h-1zM29 26h1v1h-1zM33 26h1v1h-1zM1 27h1v1h-1zM8 27h1v1h-1zM13 27h1v1h-1zM15 27h1v1h-1zM17 27h1v1h-1zM6 28h1v1h-1zM13 28h1v1h-1zM23 28h1v1h-1zM24 28h1v1h-1zM26 28h1v1h-1zM34 28h1v1h-1zM0 29h1v1h-1zM5 29h1v1h-1zM16 29h1v1h-1zM1 30h1v1h-1zM22 30h1v1h-1zM25 30h1v1h-1zM27 30h1v1h-1zM33 30h1v1h-1zM1 31h1v1h-1zM2 31h1v1h-1zM4 31h1v1h-1zM13 31h1v1h-1zM24 31h1v1h-1zM25 31h1v1h-1zM27 31h1v1h-1zM29 31h1v1h-1zM30 31h1v1h-1zM33 31h1v1h-1zM17 32h1v1h-1zM27 32h1v1h-1zM2 39h1v1h-1z"/>
<path fill="#F9FBC9" d="M3 1h1v1h-1zM7 21h1v1h-1zM25 21h1v1h-1zM26 21h1v1h-1zM29 21h1v1h-1zM33 21h1v1h-1zM9 22h1v1h-1zM10 22h1v1h-1zM23 22h1v1h-1zM25 22h1v1h-1zM27 22h1v1h-1zM30 22h1v1h-1zM8 23h1v1h-1zM9 23h1v1h-1zM25 23h1v1h-1zM30 23h1v1h-1zM2 24h1v1h-1zM5 24h1v1h-1zM6 24h1v1h-1zM23 24h1v1h-1zM30 24h1v1h-1zM33 24h1v1h-1zM2 25h1v1h-1zM4 25h1v1h-1zM6 25h1v1h-1zM14 25h1v1h-1zM17 25h1v1h-1zM26 25h1v1h-1zM8 26h1v1h-1zM9 26h1v1h-1zM4 27h1v1h-1zM9 27h1v1h-1zM24 27h1v1h-1zM25 27h1v1h-1zM30 27h1v1h-1zM34 27h1v1h-1zM35 27h1v1h-1zM4 28h1v1h-1zM17 28h1v1h-1zM19 28h1v1h-1zM25 28h1v1h-1zM32 28h1v1h-1zM3 29h1v1h-1zM13 29h1v1h-1zM6 30h1v1h-1zM10 30h1v1h-1zM12 30h1v1h-1zM18 30h1v1h-1zM23 30h1v1h-1zM31 30h1v1h-1zM7 31h1v1h-1zM10 31h1v1h-1zM19 31h1v1h-1zM28 31h1v1h-1zM32 31h1v1h-1z"/>
<path fill="#FBFCC5" d="M3 22h1v1h-1zM16 22h1v1h-1zM19 22h1v1h-1zM26 22h1v1h-1zM34 22h1v1h-1zM6 23h1v1h-1zM17 23h1v1h-1zM19 23h1v1h-1zM24 23h1v1h-1zM28 23h1v1h-1zM34 23h1v1h-1zM0 24h1v1h-1zM3 24h1v1h-1zM13 24h1v1h-1zM25 24h1v1h-1zM34 24h1v1h-1zM35 24h1v1h-1zM15 25h1v1h-1zM18 25h1v1h-1zM21 25h1v1h-1zM25 25h1v1h-1zM27 25h1v1h-1zM31 25h1v1h-1zM0 26h1v1h-1zM4 26h1v1h-1zM14 26h1v1h-1zM15 26h1v1h-1zM16 26h1v1h-1zM21 26h1v1h-1zM27 26h1v1h-1zM30 26h1v1h-1zM0 27h1v1h-1zM5 27h1v1h-1zM12 27h1v1h-1zM14 27h1v1h-1zM16 27h1v1h-1zM18 27h1v1h-1zM23 27h1v1h-1zM26 27h1v1h-1zM0 28h1v1h-1zM2 28h1v1h-1zM3 28h1v1h-1zM14 28h1v1h-1zM18 28h1v1h-1zM22 28h1v1h-1zM30 28h1v1h-1zM6 29h1v1h-1zM12 29h1v1h-1zM19 29h1v1h-1zM23 29h1v1h-1zM27 29h1v1h-1zM28 29h1v1h-1zM34 29h1v1h-1zM35 29h1v1h-1zM3 30h1v1h-1zM8 30h1v1h-1zM9 30h1v1h-1zM13 30h1v1h-1zM26 30h1v1h-1zM30 30h1v1h-1zM35 30h1v1h-1zM15 31h1v1h-1zM16 31h1v1h-1zM21 31h1v1h-1zM31 31h1v1h-1zM34 31h1v1h-1z"/>
<path fill="#FDFCC2" d="M3 19h1v1h-1zM25 20h1v1h-1zM34 20h1v1h-1zM4 23h1v1h-1zM23 23h1v1h-1zM33 23h1v1h-1zM7 24h1v1h-1zM14 24h1v1h-1zM16 24h1v1h-1zM20 24h1v1h-1zM21 24h1v1h-1zM0 25h1v1h-1zM1 25h1v1h-1zM7 25h1v1h-1zM9 25h1v1h-1zM19 25h1v1h-1zM20 25h1v1h-1zM23 25h1v1h-1zM29 25h1v1h-1zM32 25h1v1h-1zM5 26h1v1h-1zM20 26h1v1h-1zM23 26h1v1h-1zM28 26h1v1h-1zM2 27h1v1h-1zM3 27h1v1h-1zM6 27h1v1h-1zM20 27h1v1h-1zM27 27h1v1h-1zM28 27h1v1h-1zM29 27h1v1h-1zM8 28h1v1h-1zM12 28h1v1h-1zM21 28h1v1h-1zM33 28h1v1h-1zM35 28h1v1h-1zM25 39h1v1h-1zM32 39h1v1h-1zM0 40h1v1h-1zM5 56h1v1h-1zM7 56h1v1h-1zM8 56h1v1h-1zM11 56h1v1h-1zM12 56h1v1h-1zM23 56h1v1h-1zM28 56h1v1h-1zM32 56h1v1h-1zM33 56h1v1h-1z"/>
<path fill="#FFFDBE" d="M29 20h1v1h-1zM30 20h1v1h-1zM32 20h1v1h-1zM35 20h1v1h-1zM12 24h1v1h-1zM24 24h1v1h-1zM32 24h1v1h-1zM8 25h1v1h-1zM24 25h1v1h-1zM30 25h1v1h-1zM33 25h1v1h-1zM35 25h1v1h-1zM7 26h1v1h-1zM13 26h1v1h-1zM18 26h1v1h-1zM19 26h1v1h-1zM25 26h1v1h-1zM34 26h1v1h-1zM35 26h1v1h-1zM22 27h1v1h-1zM31 27h1v1h-1zM32 27h1v1h-1zM33 27h1v1h-1zM1 28h1v1h-1zM5 28h1v1h-1zM9 28h1v1h-1zM28 28h1v1h-1zM29 28h1v1h-1zM31 28h1v1h-1zM10 56h1v1h-1zM14 56h1v1h-1zM16 56h1v1h-1zM17 56h1v1h-1zM18 56h1v1h-1zM21 56h1v1h-1zM30 56h1v1h-1zM31 56h1v1h-1z"/>
<path fill="#FFFBBB" d="M3 20h1v1h-1zM6 20h1v1h-1zM23 20h1v1h-1zM28 20h1v1h-1zM31 20h1v1h-1zM24 22h1v1h-1zM22 36h1v1h-1zM26 39h1v1h-1zM3 46h1v1h-1zM4 56h1v1h-1zM6 56h1v1h-1zM9 56h1v1h-1zM13 56h1v1h-1zM15 56h1v1h-1zM19 56h1v1h-1zM20 56h1v1h-1zM27 56h1v1h-1zM29 56h1v1h-1zM34 56h1v1h-1zM35 56h1v1h-1z"/>
<path fill="#FFF9B8" d="M0 17h1v1h-1zM7 20h1v1h-1zM19 20h1v1h-1zM20 20h1v1h-1zM24 21h1v1h-1zM2 22h1v1h-1zM1 23h1v1h-1zM10 23h1v1h-1zM10 26h1v1h-1zM10 27h1v1h-1zM11 27h1v1h-1zM10 32h1v1h-1zM2 33h1v1h-1zM22 34h1v1h-1zM1 57h1v1h-1zM3 57h1v1h-1zM4 57h1v1h-1zM7 57h1v1h-1zM16 57h1v1h-1zM19 57h1v1h-1zM20 57h1v1h-1zM21 57h1v1h-1zM23 57h1v1h-1zM24 57h1v1h-1zM25 57h1v1h-1zM26 57h1v1h-1zM28 57h1v1h-1zM29 57h1v1h-1zM30 57h1v1h-1zM33 57h1v1h-1zM7 58h1v1h-1zM8 58h1v1h-1zM12 58h1v1h-1zM20 58h1v1h-1zM22 58h1v1h-1zM25 58h1v1h-1zM27 58h1v1h-1zM29 58h1v1h-1zM31 58h1v1h-1zM33 58h1v1h-1zM35 58h1v1h-1z"/>
<path fill="#FFF7B5" d="M5 20h1v1h-1zM8 20h1v1h-1zM21 20h1v1h-1zM22 20h1v1h-1zM26 20h1v1h-1zM1 21h1v1h-1zM2 21h1v1h-1zM1 22h1v1h-1zM0 23h1v1h-1zM2 23h1v1h-1zM11 23h1v1h-1zM11 24h1v1h-1zM10 25h1v1h-1zM11 25h1v1h-1zM10 28h1v1h-1zM11 28h1v1h-1zM11 32h1v1h-1zM1 33h1v1h-1zM11 34h1v1h-1zM5 57h1v1h-1zM6 57h1v1h-1zM9 57h1v1h-1zM13 57h1v1h-1zM22 57h1v1h-1zM27 57h1v1h-1zM31 57h1v1h-1zM1 58h1v1h-1zM4 58h1v1h-1zM10 58h1v1h-1zM13 58h1v1h-1zM14 58h1v1h-1zM17 58h1v1h-1zM18 58h1v1h-1zM19 58h1v1h-1zM24 58h1v1h-1zM28 58h1v1h-1zM34 58h1v1h-1zM0 59h1v1h-1zM7 59h1v1h-1zM9 59h1v1h-1zM13 59h1v1h-1zM17 59h1v1h-1zM22 59h1v1h-1zM23 59h1v1h-1zM32 59h1v1h-1z"/>
<path fill="#FFF5B2" d="M4 20h1v1h-1zM18 20h1v1h-1zM27 20h1v1h-1zM10 24h1v1h-1zM11 26h1v1h-1zM11 33h1v1h-1zM2 57h1v1h-1zM8 57h1v1h-1zM10 57h1v1h-1zM11 57h1v1h-1zM12 57h1v1h-1zM14 57h1v1h-1zM15 57h1v1h-1zM17 57h1v1h-1zM18 57h1v1h-1zM32 57h1v1h-1zM34 57h1v1h-1zM35 57h1v1h-1zM2 58h1v1h-1zM5 58h1v1h-1zM6 58h1v1h-1zM9 58h1v1h-1zM11 58h1v1h-1zM15 58h1v1h-1zM16 58h1v1h-1zM21 58h1v1h-1zM23 58h1v1h-1zM26 58h1v1h-1zM30 58h1v1h-1zM32 58h1v1h-1zM1 59h1v1h-1zM6 59h1v1h-1zM8 59h1v1h-1zM10 59h1v1h-1zM11 59h1v1h-1zM12 59h1v1h-1zM15 59h1v1h-1zM16 59h1v1h-1zM18 59h1v1h-1zM19 59h1v1h-1zM21 59h1v1h-1zM24 59h1v1h-1zM33 59h1v1h-1zM34 59h1v1h-1zM0 61h1v1h-1zM1 61h1v1h-1zM2 61h1v1h-1zM5 61h1v1h-1zM6 61h1v1h-1zM8 61h1v1h-1zM10 61h1v1h-1zM12 61h1v1h-1zM13 61h1v1h-1zM14 61h1v1h-1zM15 61h1v1h-1zM20 61h1v1h-1zM22 61h1v1h-1zM23 61h1v1h-1zM31 61h1v1h-1zM1 62h1v1h-1zM6 62h1v1h-1zM9 62h1v1h-1zM11 62h1v1h-1zM12 62h1v1h-1zM18 62h1v1h-1zM21 62h1v1h-1zM22 62h1v1h-1zM29 62h1v1h-1zM30 62h1v1h-1zM32 62h1v1h-1zM33 62h1v1h-1zM35 62h1v1h-1zM0 63h1v1h-1zM1 63h1v1h-1zM2 63h1v1h-1zM9 63h1v1h-1zM10 63h1v1h-1zM11 63h1v1h-1zM12 63h1v1h-1zM16 63h1v1h-1zM17 63h1v1h-1zM19 63h1v1h-1zM26 63h1v1h-1zM29 63h1v1h-1zM32 63h1v1h-1zM33 63h1v1h-1zM34 63h1v1h-1zM0 64h1v1h-1zM1 64h1v1h-1zM2 64h1v1h-1zM7 64h1v1h-1zM8 64h1v1h-1zM9 64h1v1h-1zM10 64h1v1h-1zM11 64h1v1h-1zM16 64h1v1h-1zM23 64h1v1h-1zM25 64h1v1h-1zM29 64h1v1h-1zM32 64h1v1h-1zM33 64h1v1h-1zM35 64h1v1h-1zM1 65h1v1h-1zM3 65h1v1h-1zM4 65h1v1h-1zM12 65h1v1h-1zM14 65h1v1h-1zM18 65h1v1h-1zM23 65h1v1h-1zM25 65h1v1h-1zM27 65h1v1h-1zM30 65h1v1h-1z"/>
<path fill="#FFF3AE" d="M2 59h1v1h-1zM3 59h1v1h-1zM4 59h1v1h-1zM5 59h1v1h-1zM14 59h1v1h-1zM20 59h1v1h-1zM25 59h1v1h-1zM26 59h1v1h-1zM27 59h1v1h-1zM28 59h1v1h-1zM29 59h1v1h-1zM30 59h1v1h-1zM31 59h1v1h-1zM35 59h1v1h-1zM3 60h1v1h-1zM6 60h1v1h-1zM7 60h1v1h-1zM10 60h1v1h-1zM11 60h1v1h-1zM18 60h1v1h-1zM19 60h1v1h-1zM26 60h1v1h-1zM28 60h1v1h-1zM34 60h1v1h-1zM3 61h1v1h-1zM7 61h1v1h-1zM9 61h1v1h-1zM19 61h1v1h-1zM24 61h1v1h-1zM26 61h1v1h-1zM27 61h1v1h-1zM30 61h1v1h-1zM34 61h1v1h-1zM0 62h1v1h-1zM2 62h1v1h-1zM4 62h1v1h-1zM7 62h1v1h-1zM8 62h1v1h-1zM16 62h1v1h-1zM27 62h1v1h-1zM28 62h1v1h-1zM34 62h1v1h-1zM3 63h1v1h-1zM4 63h1v1h-1zM5 63h1v1h-1zM7 63h1v1h-1zM15 63h1v1h-1zM18 63h1v1h-1zM22 63h1v1h-1zM23 63h1v1h-1zM25 63h1v1h-1zM31 63h1v1h-1zM4 64h1v1h-1zM5 64h1v1h-1zM6 64h1v1h-1zM12 64h1v1h-1zM13 64h1v1h-1zM14 64h1v1h-1zM15 64h1v1h-1zM17 64h1v1h-1zM19 64h1v1h-1zM20 64h1v1h-1zM21 64h1v1h-1zM22 64h1v1h-1zM30 64h1v1h-1zM0 65h1v1h-1zM6 65h1v1h-1zM7 65h1v1h-1zM8 65h1v1h-1zM10 65h1v1h-1zM11 65h1v1h-1zM13 65h1v1h-1zM15 65h1v1h-1zM16 65h1v1h-1zM17 65h1v1h-1zM19 65h1v1h-1zM20 65h1v1h-1zM21 65h1v1h-1zM24 65h1v1h-1zM32 65h1v1h-1zM33 65h1v1h-1zM34 65h1v1h-1z"/>
<path fill="#FFF1AB" d="M0 60h1v1h-1zM1 60h1v1h-1zM4 60h1v1h-1zM14 60h1v1h-1zM15 60h1v1h-1zM23 60h1v1h-1zM24 60h1v1h-1zM25 60h1v1h-1zM29 60h1v1h-1zM30 60h1v1h-1zM31 60h1v1h-1zM33 60h1v1h-1zM4 61h1v1h-1zM11 61h1v1h-1zM16 61h1v1h-1zM17 61h1v1h-1zM18 61h1v1h-1zM21 61h1v1h-1zM25 61h1v1h-1zM28 61h1v1h-1zM29 61h1v1h-1zM32 61h1v1h-1zM33 61h1v1h-1zM35 61h1v1h-1zM3 62h1v1h-1zM5 62h1v1h-1zM10 62h1v1h-1zM13 62h1v1h-1zM14 62h1v1h-1zM15 62h1v1h-1zM17 62h1v1h-1zM19 62h1v1h-1zM20 62h1v1h-1zM23 62h1v1h-1zM24 62h1v1h-1zM25 62h1v1h-1zM26 62h1v1h-1zM31 62h1v1h-1zM6 63h1v1h-1zM8 63h1v1h-1zM13 63h1v1h-1zM14 63h1v1h-1zM20 63h1v1h-1zM21 63h1v1h-1zM24 63h1v1h-1zM27 63h1v1h-1zM28 63h1v1h-1zM30 63h1v1h-1zM35 63h1v1h-1zM3 64h1v1h-1zM18 64h1v1h-1zM24 64h1v1h-1zM26 64h1v1h-1zM27 64h1v1h-1zM28 64h1v1h-1zM31 64h1v1h-1zM34 64h1v1h-1zM2 65h1v1h-1zM5 65h1v1h-1zM9 65h1v1h-1zM22 65h1v1h-1zM26 65h1v1h-1zM28 65h1v1h-1zM29 65h1v1h-1zM31 65h1v1h-1zM35 65h1v1h-1zM2 66h1v1h-1zM6 66h1v1h-1zM7 66h1v1h-1zM17 66h1v1h-1zM19 66h1v1h-1zM20 66h1v1h-1zM22 66h1v1h-1zM30 66h1v1h-1zM32 66h1v1h-1zM35 66h1v1h-1zM3 73h1v1h-1zM8 73h1v1h-1zM14 73h1v1h-1zM15 73h1v1h-1zM18 73h1v1h-1zM19 73h1v1h-1zM20 73h1v1h-1zM21 73h1v1h-1zM27 73h1v1h-1zM35 73h1v1h-1z"/>
<path fill="#FFF0A8" d="M2 60h1v1h-1zM5 60h1v1h-1zM8 60h1v1h-1zM9 60h1v1h-1zM12 60h1v1h-1zM13 60h1v1h-1zM16 60h1v1h-1zM17 60h1v1h-1zM20 60h1v1h-1zM21 60h1v1h-1zM22 60h1v1h-1zM27 60h1v1h-1zM32 60h1v1h-1zM35 60h1v1h-1zM0 66h1v1h-1zM1 66h1v1h-1zM4 66h1v1h-1zM5 66h1v1h-1zM23 66h1v1h-1zM24 66h1v1h-1zM26 66h1v1h-1zM29 66h1v1h-1zM8 72h1v1h-1zM13 72h1v1h-1zM15 72h1v1h-1zM18 72h1v1h-1zM22 72h1v1h-1zM26 72h1v1h-1zM29 72h1v1h-1zM7 73h1v1h-1zM9 73h1v1h-1zM10 73h1v1h-1zM12 73h1v1h-1zM13 73h1v1h-1zM25 73h1v1h-1zM33 73h1v1h-1z"/>
<path fill="#FFEEA5" d="M0 20h1v1h-1zM0 39h1v1h-1zM3 66h1v1h-1zM8 66h1v1h-1zM9 66h1v1h-1zM10 66h1v1h-1zM11 66h1v1h-1zM12 66h1v1h-1zM13 66h1v1h-1zM14 66h1v1h-1zM15 66h1v1h-1zM16 66h1v1h-1zM18 66h1v1h-1zM21 66h1v1h-1zM25 66h1v1h-1zM27 66h1v1h-1zM28 66h1v1h-1zM31 66h1v1h-1zM33 66h1v1h-1zM34 66h1v1h-1zM18 71h1v1h-1zM24 71h1v1h-1zM27 71h1v1h-1zM29 71h1v1h-1zM32 71h1v1h-1zM34 71h1v1h-1zM2 72h1v1h-1zM3 72h1v1h-1zM7 72h1v1h-1zM10 72h1v1h-1zM19 72h1v1h-1zM20 72h1v1h-1zM21 72h1v1h-1zM23 72h1v1h-1zM25 72h1v1h-1zM28 72h1v1h-1zM30 72h1v1h-1zM31 72h1v1h-1zM32 72h1v1h-1zM34 72h1v1h-1zM4 73h1v1h-1zM5 73h1v1h-1zM6 73h1v1h-1zM16 73h1v1h-1zM17 73h1v1h-1zM22 73h1v1h-1zM23 73h1v1h-1zM28 73h1v1h-1zM29 73h1v1h-1zM31 73h1v1h-1zM32 73h1v1h-1zM34 73h1v1h-1z"/>
<path fill="#FEECA2" d="M13 51h1v1h-1zM1 69h1v1h-1zM5 69h1v1h-1zM7 69h1v1h-1zM8 69h1v1h-1zM10 69h1v1h-1zM13 69h1v1h-1zM19 69h1v1h-1zM23 69h1v1h-1zM24 69h1v1h-1zM25 69h1v1h-1zM28 69h1v1h-1zM0 70h1v1h-1zM2 70h1v1h-1zM3 70h1v1h-1zM5 70h1v1h-1zM6 70h1v1h-1zM9 70h1v1h-1zM14 70h1v1h-1zM16 70h1v1h-1zM17 70h1v1h-1zM18 70h1v1h-1zM24 70h1v1h-1zM31 70h1v1h-1zM34 70h1v1h-1zM0 71h1v1h-1zM1 71h1v1h-1zM3 71h1v1h-1zM4 71h1v1h-1zM8 71h1v1h-1zM14 71h1v1h-1zM16 71h1v1h-1zM17 71h1v1h-1zM20 71h1v1h-1zM22 71h1v1h-1zM25 71h1v1h-1zM28 71h1v1h-1zM30 71h1v1h-1zM35 71h1v1h-1zM0 72h1v1h-1zM1 72h1v1h-1zM4 72h1v1h-1zM5 72h1v1h-1zM6 72h1v1h-1zM9 72h1v1h-1zM12 72h1v1h-1zM14 72h1v1h-1zM16 72h1v1h-1zM17 72h1v1h-1zM24 72h1v1h-1zM27 72h1v1h-1zM33 72h1v1h-1zM35 72h1v1h-1zM2 73h1v1h-1zM7 74h1v1h-1zM8 74h1v1h-1zM10 74h1v1h-1zM18 74h1v1h-1zM21 74h1v1h-1zM24 74h1v1h-1zM26 74h1v1h-1zM28 74h1v1h-1zM30 74h1v1h-1zM34 74h1v1h-1zM35 74h1v1h-1z"/>
<path fill="#FEEA9F" d="M0 57h1v1h-1zM0 58h1v1h-1zM3 58h1v1h-1zM2 69h1v1h-1zM4 69h1v1h-1zM9 69h1v1h-1zM15 69h1v1h-1zM17 69h1v1h-1zM18 69h1v1h-1zM20 69h1v1h-1zM27 69h1v1h-1zM29 69h1v1h-1zM30 69h1v1h-1zM32 69h1v1h-1zM33 69h1v1h-1zM35 69h1v1h-1zM4 70h1v1h-1zM7 70h1v1h-1zM8 70h1v1h-1zM12 70h1v1h-1zM13 70h1v1h-1zM20 70h1v1h-1zM21 70h1v1h-1zM22 70h1v1h-1zM27 70h1v1h-1zM28 70h1v1h-1zM29 70h1v1h-1zM30 70h1v1h-1zM32 70h1v1h-1zM33 70h1v1h-1zM2 71h1v1h-1zM5 71h1v1h-1zM6 71h1v1h-1zM7 71h1v1h-1zM9 71h1v1h-1zM10 71h1v1h-1zM12 71h1v1h-1zM13 71h1v1h-1zM15 71h1v1h-1zM19 71h1v1h-1zM21 71h1v1h-1zM23 71h1v1h-1zM26 71h1v1h-1zM31 71h1v1h-1zM33 71h1v1h-1zM0 73h1v1h-1zM1 73h1v1h-1zM4 74h1v1h-1zM5 74h1v1h-1zM9 74h1v1h-1zM12 74h1v1h-1zM13 74h1v1h-1zM14 74h1v1h-1zM19 74h1v1h-1zM25 74h1v1h-1zM32 74h1v1h-1zM33 74h1v1h-1zM4 75h1v1h-1zM5 75h1v1h-1zM6 75h1v1h-1zM8 75h1v1h-1zM9 75h1v1h-1zM12 75h1v1h-1zM14 75h1v1h-1zM18 75h1v1h-1zM19 75h1v1h-1zM20 75h1v1h-1zM21 75h1v1h-1zM22 75h1v1h-1zM24 75h1v1h-1zM25 75h1v1h-1zM29 75h1v1h-1z"/>
<path fill="#FEE89C" d="M0 69h1v1h-1zM3 69h1v1h-1zM6 69h1v1h-1zM12 69h1v1h-1zM14 69h1v1h-1zM16 69h1v1h-1zM21 69h1v1h-1zM22 69h1v1h-1zM26 69h1v1h-1zM31 69h1v1h-1zM34 69h1v1h-1zM1 70h1v1h-1zM10 70h1v1h-1zM19 70h1v1h-1zM23 70h1v1h-1zM25 70h1v1h-1zM26 70h1v1h-1zM35 70h1v1h-1zM6 74h1v1h-1zM11 74h1v1h-1zM15 74h1v1h-1zM16 74h1v1h-1zM17 74h1v1h-1zM20 74h1v1h-1zM22 74h1v1h-1zM23 74h1v1h-1zM27 74h1v1h-1zM29 74h1v1h-1zM31 74h1v1h-1zM0 75h1v1h-1zM2 75h1v1h-1zM13 75h1v1h-1zM15 75h1v1h-1zM16 75h1v1h-1zM17 75h1v1h-1zM23 75h1v1h-1zM27 75h1v1h-1zM28 75h1v1h-1zM32 75h1v1h-1zM33 75h1v1h-1zM35 75h1v1h-1z"/>
<path fill="#FEE699" d="M1 75h1v1h-1zM3 75h1v1h-1zM7 75h1v1h-1zM10 75h1v1h-1zM11 75h1v1h-1zM26 75h1v1h-1zM30 75h1v1h-1zM31 75h1v1h-1zM34 75h1v1h-1z"/>
<path fill="#FEE495" d="M23 47h1v1h-1zM4 68h1v1h-1zM5 68h1v1h-1zM8 68h1v1h-1zM16 68h1v1h-1zM17 68h1v1h-1zM18 68h1v1h-1zM19 68h1v1h-1zM26 68h1v1h-1zM29 68h1v1h-1zM0 74h1v1h-1zM1 74h1v1h-1zM2 74h1v1h-1zM3 74h1v1h-1z"/>
<path fill="#FEE292" d="M22 47h1v1h-1zM0 67h1v1h-1zM5 67h1v1h-1zM7 67h1v1h-1zM18 67h1v1h-1zM19 67h1v1h-1zM21 67h1v1h-1zM26 67h1v1h-1zM27 67h1v1h-1zM28 67h1v1h-1zM32 67h1v1h-1zM35 67h1v1h-1zM1 68h1v1h-1zM6 68h1v1h-1zM7 68h1v1h-1zM10 68h1v1h-1zM15 68h1v1h-1zM20 68h1v1h-1zM21 68h1v1h-1zM23 68h1v1h-1zM24 68h1v1h-1zM25 68h1v1h-1zM27 68h1v1h-1zM30 68h1v1h-1zM33 68h1v1h-1zM34 68h1v1h-1zM24 73h1v1h-1z"/>
<path fill="#FEE08F" d="M0 51h1v1h-1zM4 67h1v1h-1zM12 67h1v1h-1zM15 67h1v1h-1zM16 67h1v1h-1zM17 67h1v1h-1zM22 67h1v1h-1zM25 67h1v1h-1zM29 67h1v1h-1zM0 68h1v1h-1zM2 68h1v1h-1zM3 68h1v1h-1zM9 68h1v1h-1zM12 68h1v1h-1zM22 68h1v1h-1zM28 68h1v1h-1zM31 68h1v1h-1zM32 68h1v1h-1zM35 68h1v1h-1zM15 70h1v1h-1z"/>
<path fill="#FEDE8C" d="M1 67h1v1h-1zM2 67h1v1h-1zM3 67h1v1h-1zM6 67h1v1h-1zM8 67h1v1h-1zM9 67h1v1h-1zM20 67h1v1h-1zM23 67h1v1h-1zM24 67h1v1h-1zM30 67h1v1h-1zM31 67h1v1h-1zM33 67h1v1h-1zM34 67h1v1h-1z"/>
<path fill="#FEDB89" d="M3 47h1v1h-1zM4 47h1v1h-1zM8 47h1v1h-1zM14 47h1v1h-1zM35 47h1v1h-1zM11 72h1v1h-1z"/>
<path fill="#FED685" d="M1 47h1v1h-1zM2 47h1v1h-1zM5 47h1v1h-1zM9 47h1v1h-1zM16 47h1v1h-1zM20 47h1v1h-1zM24 47h1v1h-1zM25 47h1v1h-1zM27 47h1v1h-1zM30 47h1v1h-1zM31 47h1v1h-1zM34 47h1v1h-1zM22 48h1v1h-1zM11 69h1v1h-1zM11 70h1v1h-1zM11 71h1v1h-1z"/>
<path fill="#FED182" d="M10 47h1v1h-1zM12 47h1v1h-1zM28 47h1v1h-1zM33 47h1v1h-1zM13 68h1v1h-1zM14 68h1v1h-1z"/>
<path fill="#FECC7E" d="M0 47h1v1h-1zM6 47h1v1h-1zM7 47h1v1h-1zM11 47h1v1h-1zM17 47h1v1h-1zM19 47h1v1h-1zM21 47h1v1h-1zM26 47h1v1h-1zM29 47h1v1h-1zM32 47h1v1h-1zM4 51h1v1h-1zM7 51h1v1h-1zM19 51h1v1h-1zM29 51h1v1h-1zM9 54h1v1h-1zM14 67h1v1h-1zM26 73h1v1h-1zM30 73h1v1h-1z"/>
<path fill="#FDC77B" d="M13 47h1v1h-1zM15 47h1v1h-1zM18 47h1v1h-1zM2 51h1v1h-1zM6 51h1v1h-1zM9 51h1v1h-1zM11 51h1v1h-1zM14 51h1v1h-1zM21 51h1v1h-1zM30 51h1v1h-1zM34 51h1v1h-1zM2 55h1v1h-1zM3 55h1v1h-1zM12 55h1v1h-1zM15 55h1v1h-1zM24 55h1v1h-1zM13 67h1v1h-1z"/>
<path fill="#FDC277" d="M33 48h1v1h-1zM3 51h1v1h-1zM5 51h1v1h-1zM8 51h1v1h-1zM12 51h1v1h-1zM15 51h1v1h-1zM16 51h1v1h-1zM17 51h1v1h-1zM23 51h1v1h-1zM25 51h1v1h-1zM28 51h1v1h-1zM35 51h1v1h-1zM4 55h1v1h-1zM8 55h1v1h-1zM26 55h1v1h-1zM28 55h1v1h-1zM29 55h1v1h-1zM30 55h1v1h-1zM31 55h1v1h-1zM10 67h1v1h-1zM11 67h1v1h-1zM11 68h1v1h-1z"/>
<path fill="#FDBD74" d="M2 48h1v1h-1zM3 48h1v1h-1zM7 48h1v1h-1zM8 48h1v1h-1zM10 48h1v1h-1zM18 48h1v1h-1zM20 48h1v1h-1zM24 48h1v1h-1zM35 48h1v1h-1zM1 51h1v1h-1zM10 51h1v1h-1zM18 51h1v1h-1zM20 51h1v1h-1zM26 51h1v1h-1zM31 51h1v1h-1zM32 51h1v1h-1zM33 51h1v1h-1zM1 55h1v1h-1zM6 55h1v1h-1zM10 55h1v1h-1zM14 55h1v1h-1zM16 55h1v1h-1zM17 55h1v1h-1zM20 55h1v1h-1zM27 55h1v1h-1zM32 55h1v1h-1zM33 55h1v1h-1zM34 55h1v1h-1zM35 55h1v1h-1z"/>
<path fill="#FDB870" d="M1 48h1v1h-1zM9 48h1v1h-1zM12 48h1v1h-1zM14 48h1v1h-1zM15 48h1v1h-1zM16 48h1v1h-1zM21 48h1v1h-1zM27 48h1v1h-1zM29 48h1v1h-1zM31 48h1v1h-1zM32 48h1v1h-1zM34 48h1v1h-1zM16 49h1v1h-1zM18 49h1v1h-1zM26 49h1v1h-1zM6 50h1v1h-1zM17 50h1v1h-1zM26 50h1v1h-1zM28 50h1v1h-1zM32 50h1v1h-1zM27 51h1v1h-1zM0 55h1v1h-1zM11 55h1v1h-1zM13 55h1v1h-1zM18 55h1v1h-1zM21 55h1v1h-1zM23 55h1v1h-1z"/>
<path fill="#FDB46D" d="M5 48h1v1h-1zM6 48h1v1h-1zM11 48h1v1h-1zM13 48h1v1h-1zM19 48h1v1h-1zM23 48h1v1h-1zM25 48h1v1h-1zM26 48h1v1h-1zM30 48h1v1h-1zM2 49h1v1h-1zM5 49h1v1h-1zM7 49h1v1h-1zM9 49h1v1h-1zM11 49h1v1h-1zM19 49h1v1h-1zM20 49h1v1h-1zM23 49h1v1h-1zM29 49h1v1h-1zM31 49h1v1h-1zM10 50h1v1h-1zM12 50h1v1h-1zM13 50h1v1h-1zM14 50h1v1h-1zM18 50h1v1h-1zM22 50h1v1h-1zM33 50h1v1h-1zM6 54h1v1h-1zM8 54h1v1h-1zM13 54h1v1h-1zM17 54h1v1h-1zM23 54h1v1h-1zM30 54h1v1h-1zM33 54h1v1h-1zM34 54h1v1h-1zM5 55h1v1h-1zM7 55h1v1h-1zM19 55h1v1h-1z"/>
<path fill="#FDAF6A" d="M0 48h1v1h-1zM4 48h1v1h-1zM17 48h1v1h-1zM28 48h1v1h-1zM0 49h1v1h-1zM6 49h1v1h-1zM10 49h1v1h-1zM14 49h1v1h-1zM15 49h1v1h-1zM28 49h1v1h-1zM30 49h1v1h-1zM33 49h1v1h-1zM1 50h1v1h-1zM7 50h1v1h-1zM8 50h1v1h-1zM15 50h1v1h-1zM20 50h1v1h-1zM27 50h1v1h-1zM34 50h1v1h-1zM35 50h1v1h-1zM1 54h1v1h-1zM2 54h1v1h-1zM31 54h1v1h-1z"/>
<path fill="#FDAA66" d="M3 49h1v1h-1zM4 49h1v1h-1zM12 49h1v1h-1zM13 49h1v1h-1zM21 49h1v1h-1zM22 49h1v1h-1zM27 49h1v1h-1zM32 49h1v1h-1zM2 50h1v1h-1zM3 50h1v1h-1zM4 50h1v1h-1zM9 50h1v1h-1zM16 50h1v1h-1zM19 50h1v1h-1zM21 50h1v1h-1zM23 50h1v1h-1zM25 50h1v1h-1zM29 50h1v1h-1zM10 54h1v1h-1zM16 54h1v1h-1zM19 54h1v1h-1zM27 54h1v1h-1zM28 54h1v1h-1zM29 54h1v1h-1z"/>
<path fill="#FDA563" d="M1 49h1v1h-1zM8 49h1v1h-1zM17 49h1v1h-1zM24 49h1v1h-1zM25 49h1v1h-1zM34 49h1v1h-1zM35 49h1v1h-1zM0 50h1v1h-1zM5 50h1v1h-1zM11 50h1v1h-1zM30 50h1v1h-1zM31 50h1v1h-1zM0 54h1v1h-1zM3 54h1v1h-1zM4 54h1v1h-1zM5 54h1v1h-1zM7 54h1v1h-1zM12 54h1v1h-1zM15 54h1v1h-1zM18 54h1v1h-1zM20 54h1v1h-1zM24 54h1v1h-1zM26 54h1v1h-1zM32 54h1v1h-1zM35 54h1v1h-1z"/>
<path fill="#FDA05F" d="M1 53h1v1h-1zM8 53h1v1h-1zM11 53h1v1h-1zM24 53h1v1h-1zM25 53h1v1h-1zM34 53h1v1h-1zM11 54h1v1h-1zM14 54h1v1h-1zM21 54h1v1h-1zM22 54h1v1h-1z"/>
<path fill="#FC9B5C" d="M24 50h1v1h-1zM24 51h1v1h-1zM0 53h1v1h-1zM2 53h1v1h-1zM3 53h1v1h-1zM5 53h1v1h-1zM14 53h1v1h-1zM16 53h1v1h-1zM17 53h1v1h-1zM20 53h1v1h-1zM26 53h1v1h-1zM27 53h1v1h-1zM32 53h1v1h-1zM22 55h1v1h-1z"/>
<path fill="#FC9658" d="M22 51h1v1h-1zM4 53h1v1h-1zM7 53h1v1h-1zM9 53h1v1h-1zM12 53h1v1h-1zM15 53h1v1h-1zM18 53h1v1h-1zM19 53h1v1h-1zM21 53h1v1h-1zM22 53h1v1h-1zM29 53h1v1h-1zM31 53h1v1h-1z"/>
<path fill="#FC9155" d="M1 52h1v1h-1zM6 52h1v1h-1zM8 52h1v1h-1zM30 52h1v1h-1zM6 53h1v1h-1zM23 53h1v1h-1zM28 53h1v1h-1zM30 53h1v1h-1zM33 53h1v1h-1z"/>
<path fill="#FC8C51" d="M2 52h1v1h-1zM9 52h1v1h-1zM12 52h1v1h-1zM21 52h1v1h-1zM23 52h1v1h-1zM24 52h1v1h-1zM27 52h1v1h-1zM10 53h1v1h-1zM13 53h1v1h-1zM35 53h1v1h-1z"/>
<path fill="#FB864E" d="M7 52h1v1h-1zM13 52h1v1h-1zM17 52h1v1h-1zM18 52h1v1h-1zM20 52h1v1h-1zM28 52h1v1h-1zM29 52h1v1h-1zM33 52h1v1h-1zM25 54h1v1h-1zM9 55h1v1h-1zM25 55h1v1h-1z"/>
<path fill="#FA804B" d="M4 52h1v1h-1zM5 52h1v1h-1zM14 52h1v1h-1zM22 52h1v1h-1z"/>
<path fill="#F87A48" d="M3 52h1v1h-1zM15 52h1v1h-1zM16 52h1v1h-1zM19 52h1v1h-1z"/>
<path fill="#F67445" d="M10 52h1v1h-1z"/>
<path fill="#F56E41" d="M34 52h1v1h-1zM35 52h1v1h-1z"/>
<path fill="#F4683E" d="M11 52h1v1h-1z"/>
<path fill="#EF5635" d="M25 52h1v1h-1z"/>
<path fill="#EC4A2F" d="M31 52h1v1h-1z"/>
<path fill="#E93E28" d="M0 52h1v1h-1z"/>
<path fill="#E83825" d="M26 52h1v1h-1zM32 52h1v1h-1z"/>
</g>
<path d="M270.30 24.74v314.26M275.81 24.74v314.26M281.32 24.74v314.26M286.82 24.74v314.26M292.33 24.74v314.26M297.84 24.74v314.26M303.35 24.74v314.26M308.86 24.74v314.26M314.36 24.74v314.26M319.87 24.74v314.26M325.38 24.74v314.26M330.89 24.74v314.26M336.40 24.74v314.26M341.90 24.74v314.26M347.41 24.74v314.26M352.92 24.74v314.26M358.43 24.74v314.26M363.94 24.74v314.26M369.44 24.74v314.26M374.95 24.74v314.26M380.46 24.74v314.26M385.97 24.74v314.26M391.48 24.74v314.26M396.98 24.74v314.26M402.49 24.74v314.26M408.00 24.74v314.26M413.51 24.74v314.26M419.02 24.74v314.26M424.52 24.74v314.26M430.03 24.74v314.26M435.54 24.74v314.26M441.05 24.74v314.26M446.56 24.74v314.26M452.06 24.74v314.26M457.57 24.74v314.26M463.08 24.74v314.26M468.59 24.74v314.26M270.30 24.74h198.29M270.30 28.88h198.29M270.30 33.01h198.29M270.30 37.14h198.29M270.30 41.28h198.29M270.30 45.41h198.29M270.30 49.55h198.29M270.30 53.69h198.29M270.30 57.82h198.29M270.30 61.95h198.29M270.30 66.09h198.29M270.30 70.22h198.29M270.30 74.36h198.29M270.30 78.49h198.29M270.30 82.63h198.29M270.30 86.77h198.29M270.30 90.90h198.29M270.30 95.03h198.29M270.30 99.17h198.29M270.30 103.30h198.29M270.30 107.44h198.29M270.30 111.57h198.29M270.30 115.71h198.29M270.30 119.84h198.29M270.30 123.98h198.29M270.30 128.12h198.29M270.30 132.25h198.29M270.30 136.38h198.29M270.30 140.52h198.29M270.30 144.66h198.29M270.30 148.79h198.29M270.30 152.93h198.29M270.30 157.06h198.29M270.30 161.19h198.29M270.30 165.33h198.29M270.30 169.47h198.29M270.30 173.60h198.29M270.30 177.74h198.29M270.30 181.87h198.29M270.30 186.00h198.29M270.30 190.14h198.29M270.30 194.28h198.29M270.30 198.41h198.29M270.30 202.54h198.29M270.30 206.68h198.29M270.30 210.81h198.29M270.30 214.95h198.29M270.30 219.09h198.29M270.30 223.22h198.29M270.30 227.35h198.29M270.30 231.49h198.29M270.30 235.62h198.29M270.30 239.76h198.29M270.30 243.90h198.29M270.30 248.03h198.29M270.30 252.16h198.29M270.30 256.30h198.29M270.30 260.44h198.29M270.30 264.57h198.29M270.30 268.70h198.29M270.30 272.84h198.29M270.30 276.97h198.29M270.30 281.11h198.29M270.30 285.25h198.29M270.30 289.38h198.29M270.30 293.51h198.29M270.30 297.65h198.29M270.30 301.78h198.29M270.30 305.92h198.29M270.30 310.06h198.29M270.30 314.19h198.29M270.30 318.32h198.29M270.30 322.46h198.29M270.30 326.59h198.29M270.30 330.73h198.29M270.30 334.87h198.29M270.30 339.00h198.29" fill="none" stroke="#8C8C8C" stroke-width="0.32"/>
<text x="469.60" y="18.00" font-size="4.05" text-anchor="start" fill="#000" font-weight="bold" stroke="#000" stroke-width="0.105">histology</text>
<text x="469.60" y="23.30" font-size="4.05" text-anchor="start" fill="#000" font-weight="bold" stroke="#000" stroke-width="0.105">condition</text>
<text x="469.60" y="28.16" font-size="4.07" text-anchor="start" fill="#111" stroke="#111" stroke-width="0.106">Hsa-Mir-181-P1c_5p</text>
<text x="469.60" y="32.29" font-size="4.07" text-anchor="start" fill="#111" stroke="#111" stroke-width="0.106">Hsa-Mir-192-P1_5p</text>
<text x="469.60" y="36.43" font-size="4.07" text-anchor="start" fill="#111" stroke="#111" stroke-width="0.106">Hsa-Mir-8-P2a_3p</text>
<text x="469.60" y="40.56" font-size="4.07" text-anchor="start" fill="#111" stroke="#111" stroke-width="0.106">Hsa-Mir-15-P2d_5p</text>
<text x="469.60" y="44.70" font-size="4.07" text-anchor="start" fill="#111" stroke="#111" stroke-width="0.106">Hsa-Mir-362-P1_5p</text>
<text x="469.60" y="48.83" font-size="4.07" text-anchor="start" fill="#111" stroke="#111" stroke-width="0.106">Hsa-Mir-95-P1_5p</text>
<text x="469.60" y="52.97" font-size="4.07" text-anchor="start" fill="#111" stroke="#111" stroke-width="0.106">Hsa-Mir-362-P2-v1_5p*</text>
<text x="469.60" y="57.10" font-size="4.07" text-anchor="start" fill="#111" stroke="#111" stroke-width="0.106">Hsa-Mir-362-P5_5p</text>
<text x="469.60" y="61.24" font-size="4.07" text-anchor="start" fill="#111" stroke="#111" stroke-width="0.106">Hsa-Mir-214-v1_3p</text>
<text x="469.60" y="65.37" font-size="4.07" text-anchor="start" fill="#111" stroke="#111" stroke-width="0.106">Hsa-Mir-885_5p</text>
<text x="469.60" y="69.51" font-size="4.07" text-anchor="start" fill="#111" stroke="#111" stroke-width="0.106">Hsa-Mir-17-P2c_3p*</text>
<text x="469.60" y="73.64" font-size="4.07" text-anchor="start" fill="#111" stroke="#111" stroke-width="0.106">Hsa-Let-7-P2c2_3p*</text>
<text x="469.60" y="77.78" font-size="4.07" text-anchor="start" fill="#111" stroke="#111" stroke-width="0.106">Hsa-Mir-550-P2b_3p</text>
<text x="469.60" y="81.91" font-size="4.07" text-anchor="start" fill="#111" stroke="#111" stroke-width="0.106">Hsa-Mir-550-P1_5p</text>
<text x="469.60" y="86.05" font-size="4.07" text-anchor="start" fill="#111" stroke="#111" stroke-width="0.106">Hsa-Mir-550-P2a_3p</text>
<text x="469.60" y="90.18" font-size="4.07" text-anchor="start" fill="#111" stroke="#111" stroke-width="0.106">Hsa-Mir-132-P1_3p</text>
<text x="469.60" y="94.32" font-size="4.07" text-anchor="start" fill="#111" stroke="#111" stroke-width="0.106">Hsa-Mir-1908_5p</text>
<text x="469.60" y="98.45" font-size="4.07" text-anchor="start" fill="#111" stroke="#111" stroke-width="0.106">Hsa-Mir-10-P2c_5p</text>
<text x="469.60" y="102.59" font-size="4.07" text-anchor="start" fill="#111" stroke="#111" stroke-width="0.106">Hsa-Mir-181-P1b_3p*</text>
<text x="469.60" y="106.72" font-size="4.07" text-anchor="start" fill="#111" stroke="#111" stroke-width="0.106">Hsa-Mir-8-P1b_3p</text>
<text x="469.60" y="110.86" font-size="4.07" text-anchor="start" fill="#111" stroke="#111" stroke-width="0.106">Hsa-Mir-375_3p</text>
<text x="469.60" y="114.99" font-size="4.07" text-anchor="start" fill="#111" stroke="#111" stroke-width="0.106">Hsa-Mir-30-P1d_3p*</text>
<text x="469.60" y="119.13" font-size="4.07" text-anchor="start" fill="#111" stroke="#111" stroke-width="0.106">Hsa-Mir-940_5p</text>
<text x="469.60" y="123.26" font-size="4.07" text-anchor="start" fill="#111" stroke="#111" stroke-width="0.106">Hsa-Mir-15-P1a_3p</text>
<text x="469.60" y="127.40" font-size="4.07" text-anchor="start" fill="#111" stroke="#111" stroke-width="0.106">Hsa-Mir-17-P2a_3p</text>
<text x="469.60" y="131.53" font-size="4.07" text-anchor="start" fill="#111" stroke="#111" stroke-width="0.106">Hsa-Mir-324_3p*</text>
<text x="469.60" y="135.67" font-size="4.07" text-anchor="start" fill="#111" stroke="#111" stroke-width="0.106">Hsa-Mir-95-P2_3p</text>
<text x="469.60" y="139.80" font-size="4.07" text-anchor="start" fill="#111" stroke="#111" stroke-width="0.106">Hsa-Mir-17-P4d_3p*</text>
<text x="469.60" y="143.94" font-size="4.07" text-anchor="start" fill="#111" stroke="#111" stroke-width="0.106">Hsa-Mir-7-P2_5p</text>
<text x="469.60" y="148.07" font-size="4.07" text-anchor="start" fill="#111" stroke="#111" stroke-width="0.106">Hsa-Mir-188-P2_3p*</text>
<text x="469.60" y="152.21" font-size="4.07" text-anchor="start" fill="#111" stroke="#111" stroke-width="0.106">Hsa-Mir-130-P4a_3p</text>
<text x="469.60" y="156.34" font-size="4.07" text-anchor="start" fill="#111" stroke="#111" stroke-width="0.106">Hsa-Mir-339_3p</text>
<text x="469.60" y="160.48" font-size="4.07" text-anchor="start" fill="#111" stroke="#111" stroke-width="0.106">Hsa-Mir-3613_5p</text>
<text x="469.60" y="164.61" font-size="4.07" text-anchor="start" fill="#111" stroke="#111" stroke-width="0.106">Hsa-Mir-130-P2b_3p</text>
<text x="469.60" y="168.75" font-size="4.07" text-anchor="start" fill="#111" stroke="#111" stroke-width="0.106">Hsa-Mir-15-P2b_3p*</text>
<text x="469.60" y="172.88" font-size="4.07" text-anchor="start" fill="#111" stroke="#111" stroke-width="0.106">Hsa-Mir-154-P3b_3p</text>
<text x="469.60" y="177.02" font-size="4.07" text-anchor="start" fill="#111" stroke="#111" stroke-width="0.106">Hsa-Mir-181-P2c_5p</text>
<text x="469.60" y="181.15" font-size="4.07" text-anchor="start" fill="#111" stroke="#111" stroke-width="0.106">Hsa-Mir-221-P2a_5p</text>
<text x="469.60" y="185.29" font-size="4.07" text-anchor="start" fill="#111" stroke="#111" stroke-width="0.106">Hsa-Mir-628_5p</text>
<text x="469.60" y="189.42" font-size="4.07" text-anchor="start" fill="#111" stroke="#111" stroke-width="0.106">Hsa-Mir-483_3p*</text>
<text x="469.60" y="193.56" font-size="4.07" text-anchor="start" fill="#111" stroke="#111" stroke-width="0.106">Hsa-Mir-34-P1_5p</text>
<text x="469.60" y="197.69" font-size="4.07" text-anchor="start" fill="#111" stroke="#111" stroke-width="0.106">Hsa-Mir-15-P2c_5p</text>
<text x="469.60" y="201.83" font-size="4.07" text-anchor="start" fill="#111" stroke="#111" stroke-width="0.106">Hsa-Mir-190-P3_5p</text>
<text x="469.60" y="205.96" font-size="4.07" text-anchor="start" fill="#111" stroke="#111" stroke-width="0.106">Hsa-Mir-210_3p</text>
<text x="469.60" y="210.10" font-size="4.07" text-anchor="start" fill="#111" stroke="#111" stroke-width="0.106">Hsa-Mir-296_3p</text>
<text x="469.60" y="214.23" font-size="4.07" text-anchor="start" fill="#111" stroke="#111" stroke-width="0.106">Hsa-Mir-30-P1b_3p*</text>
<text x="469.60" y="218.37" font-size="4.07" text-anchor="start" fill="#111" stroke="#111" stroke-width="0.106">Hsa-Mir-8-P2b_3p</text>
<text x="469.60" y="222.50" font-size="4.07" text-anchor="start" fill="#111" stroke="#111" stroke-width="0.106">Hsa-Mir-423_3p</text>
<text x="469.60" y="226.64" font-size="4.07" text-anchor="start" fill="#111" stroke="#111" stroke-width="0.106">Hsa-Let-7-P2c1_5p</text>
<text x="469.60" y="230.77" font-size="4.07" text-anchor="start" fill="#111" stroke="#111" stroke-width="0.106">Hsa-Let-7-P2c3_5p</text>
<text x="469.60" y="234.91" font-size="4.07" text-anchor="start" fill="#111" stroke="#111" stroke-width="0.106">Hsa-Mir-21_5p</text>
<text x="469.60" y="239.04" font-size="4.07" text-anchor="start" fill="#111" stroke="#111" stroke-width="0.106">Hsa-Mir-28-P2_3p</text>
<text x="469.60" y="243.18" font-size="4.07" text-anchor="start" fill="#111" stroke="#111" stroke-width="0.106">Hsa-Mir-122_5p</text>
<text x="469.60" y="247.31" font-size="4.07" text-anchor="start" fill="#111" stroke="#111" stroke-width="0.106">Hsa-Mir-17-P4d_5p</text>
<text x="469.60" y="251.45" font-size="4.07" text-anchor="start" fill="#111" stroke="#111" stroke-width="0.106">Hsa-Mir-28-P2_5p</text>
<text x="469.60" y="255.58" font-size="4.07" text-anchor="start" fill="#111" stroke="#111" stroke-width="0.106">Hsa-Mir-320-P1_3p</text>
<text x="469.60" y="259.72" font-size="4.07" text-anchor="start" fill="#111" stroke="#111" stroke-width="0.106">Hsa-Mir-144-v1_5p*</text>
<text x="469.60" y="263.85" font-size="4.07" text-anchor="start" fill="#111" stroke="#111" stroke-width="0.106">Hsa-Mir-10-P1b-v1_5p</text>
<text x="469.60" y="267.99" font-size="4.07" text-anchor="start" fill="#111" stroke="#111" stroke-width="0.106">Hsa-Mir-10-P3c_5p</text>
<text x="469.60" y="272.12" font-size="4.07" text-anchor="start" fill="#111" stroke="#111" stroke-width="0.106">Hsa-Mir-10-P3d_5p</text>
<text x="469.60" y="276.26" font-size="4.07" text-anchor="start" fill="#111" stroke="#111" stroke-width="0.106">Hsa-Mir-19-P2a_3p</text>
<text x="469.60" y="280.39" font-size="4.07" text-anchor="start" fill="#111" stroke="#111" stroke-width="0.106">Hsa-Mir-19-P2c_3p</text>
<text x="469.60" y="284.53" font-size="4.07" text-anchor="start" fill="#111" stroke="#111" stroke-width="0.106">Hsa-Mir-128-P1_3p</text>
<text x="469.60" y="288.66" font-size="4.07" text-anchor="start" fill="#111" stroke="#111" stroke-width="0.106">Hsa-Mir-130-P1c_3p</text>
<text x="469.60" y="292.80" font-size="4.07" text-anchor="start" fill="#111" stroke="#111" stroke-width="0.106">Hsa-Mir-361-v1_3p*</text>
<text x="469.60" y="296.93" font-size="4.07" text-anchor="start" fill="#111" stroke="#111" stroke-width="0.106">Hsa-Mir-10-P1c-v1_5p</text>
<text x="469.60" y="301.07" font-size="4.07" text-anchor="start" fill="#111" stroke="#111" stroke-width="0.106">Hsa-Mir-30-P1b_5p</text>
<text x="469.60" y="305.20" font-size="4.07" text-anchor="start" fill="#111" stroke="#111" stroke-width="0.106">Hsa-Mir-17-P4a_5p</text>
<text x="469.60" y="309.34" font-size="4.07" text-anchor="start" fill="#111" stroke="#111" stroke-width="0.106">Hsa-Mir-22-P1b_3p</text>
<text x="469.60" y="313.47" font-size="4.07" text-anchor="start" fill="#111" stroke="#111" stroke-width="0.106">Hsa-Mir-103-P1_3p</text>
<text x="469.60" y="317.61" font-size="4.07" text-anchor="start" fill="#111" stroke="#111" stroke-width="0.106">Hsa-Mir-15-P1b_5p</text>
<text x="469.60" y="321.74" font-size="4.07" text-anchor="start" fill="#111" stroke="#111" stroke-width="0.106">Hsa-Mir-15-P1a_5p</text>
<text x="469.60" y="325.88" font-size="4.07" text-anchor="start" fill="#111" stroke="#111" stroke-width="0.106">Hsa-Mir-17-P4c_5p</text>
<text x="469.60" y="330.01" font-size="4.07" text-anchor="start" fill="#111" stroke="#111" stroke-width="0.106">Hsa-Mir-224_5p</text>
<text x="469.60" y="334.15" font-size="4.07" text-anchor="start" fill="#111" stroke="#111" stroke-width="0.106">Hsa-Mir-148-P4_3p</text>
<text x="469.60" y="338.28" font-size="4.07" text-anchor="start" fill="#111" stroke="#111" stroke-width="0.106">Hsa-Mir-221-P1a_3p</text>
<text transform="translate(271.70,340.2) rotate(90)" font-size="4.07" fill="#111" stroke="#111" stroke-width="0.1">Be1</text>
<text transform="translate(277.21,340.2) rotate(90)" font-size="4.07" fill="#111" stroke="#111" stroke-width="0.1">Be2</text>
<text transform="translate(282.72,340.2) rotate(90)" font-size="4.07" fill="#111" stroke="#111" stroke-width="0.1">Be3</text>
<text transform="translate(288.23,340.2) rotate(90)" font-size="4.07" fill="#111" stroke="#111" stroke-width="0.1">Be4</text>
<text transform="translate(293.74,340.2) rotate(90)" font-size="4.07" fill="#111" stroke="#111" stroke-width="0.1">Be5</text>
<text transform="translate(299.24,340.2) rotate(90)" font-size="4.07" fill="#111" stroke="#111" stroke-width="0.1">Be6</text>
<text transform="translate(304.75,340.2) rotate(90)" font-size="4.07" fill="#111" stroke="#111" stroke-width="0.1">Be7</text>
<text transform="translate(310.26,340.2) rotate(90)" font-size="4.07" fill="#111" stroke="#111" stroke-width="0.1">Be8</text>
<text transform="translate(315.77,340.2) rotate(90)" font-size="4.07" fill="#111" stroke="#111" stroke-width="0.1">Be9</text>
<text transform="translate(321.28,340.2) rotate(90)" font-size="4.07" fill="#111" stroke="#111" stroke-width="0.1">MB1</text>
<text transform="translate(326.78,340.2) rotate(90)" font-size="4.07" fill="#111" stroke="#111" stroke-width="0.1">MB2</text>
<text transform="translate(332.29,340.2) rotate(90)" font-size="4.07" fill="#111" stroke="#111" stroke-width="0.1">MB3</text>
<text transform="translate(337.80,340.2) rotate(90)" font-size="4.07" fill="#111" stroke="#111" stroke-width="0.1">MB4</text>
<text transform="translate(343.31,340.2) rotate(90)" font-size="4.07" fill="#111" stroke="#111" stroke-width="0.1">HB1</text>
<text transform="translate(348.82,340.2) rotate(90)" font-size="4.07" fill="#111" stroke="#111" stroke-width="0.1">HB2</text>
<text transform="translate(354.32,340.2) rotate(90)" font-size="4.07" fill="#111" stroke="#111" stroke-width="0.1">HB3</text>
<text transform="translate(359.83,340.2) rotate(90)" font-size="4.07" fill="#111" stroke="#111" stroke-width="0.1">HB4</text>
<text transform="translate(365.34,340.2) rotate(90)" font-size="4.07" fill="#111" stroke="#111" stroke-width="0.1">HB5</text>
<text transform="translate(370.85,340.2) rotate(90)" font-size="4.07" fill="#111" stroke="#111" stroke-width="0.1">HB6</text>
<text transform="translate(376.36,340.2) rotate(90)" font-size="4.07" fill="#111" stroke="#111" stroke-width="0.1">HB7</text>
<text transform="translate(381.86,340.2) rotate(90)" font-size="4.07" fill="#111" stroke="#111" stroke-width="0.1">HB8</text>
<text transform="translate(387.37,340.2) rotate(90)" font-size="4.07" fill="#111" stroke="#111" stroke-width="0.1">HB9</text>
<text transform="translate(392.88,340.2) rotate(90)" font-size="4.07" fill="#111" stroke="#111" stroke-width="0.1">HB10</text>
<text transform="translate(398.39,340.2) rotate(90)" font-size="4.07" fill="#111" stroke="#111" stroke-width="0.1">HB11</text>
<text transform="translate(403.90,340.2) rotate(90)" font-size="4.07" fill="#111" stroke="#111" stroke-width="0.1">HB12</text>
<text transform="translate(409.40,340.2) rotate(90)" font-size="4.07" fill="#111" stroke="#111" stroke-width="0.1">HB13</text>
<text transform="translate(414.91,340.2) rotate(90)" font-size="4.07" fill="#111" stroke="#111" stroke-width="0.1">HB14</text>
<text transform="translate(420.42,340.2) rotate(90)" font-size="4.07" fill="#111" stroke="#111" stroke-width="0.1">CA1</text>
<text transform="translate(425.93,340.2) rotate(90)" font-size="4.07" fill="#111" stroke="#111" stroke-width="0.1">CA2</text>
<text transform="translate(431.44,340.2) rotate(90)" font-size="4.07" fill="#111" stroke="#111" stroke-width="0.1">CA3</text>
<text transform="translate(436.94,340.2) rotate(90)" font-size="4.07" fill="#111" stroke="#111" stroke-width="0.1">CA4</text>
<text transform="translate(442.45,340.2) rotate(90)" font-size="4.07" fill="#111" stroke="#111" stroke-width="0.1">CA5</text>
<text transform="translate(447.96,340.2) rotate(90)" font-size="4.07" fill="#111" stroke="#111" stroke-width="0.1">CA6</text>
<text transform="translate(453.47,340.2) rotate(90)" font-size="4.07" fill="#111" stroke="#111" stroke-width="0.1">CA7</text>
<text transform="translate(458.98,340.2) rotate(90)" font-size="4.07" fill="#111" stroke="#111" stroke-width="0.1">CA8</text>
<text transform="translate(464.48,340.2) rotate(90)" font-size="4.07" fill="#111" stroke="#111" stroke-width="0.1">CA9</text>
<defs><linearGradient id="cb" x1="0" y1="1" x2="0" y2="0">
<stop offset="0.0000" stop-color="#1E74C4"/>
<stop offset="0.1667" stop-color="#86BFE4"/>
<stop offset="0.3333" stop-color="#DCF1F9"/>
<stop offset="0.5000" stop-color="#FFFDBE"/>
<stop offset="0.6667" stop-color="#FEDD8A"/>
<stop offset="0.8333" stop-color="#FC8A50"/>
<stop offset="1.0000" stop-color="#E3261C"/>
</linearGradient></defs>
<rect x="515.4" y="14.3" width="4.2" height="61.7" fill="url(#cb)"/>
<text x="521.60" y="25.20" font-size="4.05" text-anchor="start" fill="#111" stroke="#111" stroke-width="0.105">15</text>
<text x="521.60" y="42.60" font-size="4.05" text-anchor="start" fill="#111" stroke="#111" stroke-width="0.105">10</text>
<text x="521.60" y="59.90" font-size="4.05" text-anchor="start" fill="#111" stroke="#111" stroke-width="0.105">5</text>
<text x="521.60" y="76.90" font-size="4.05" text-anchor="start" fill="#111" stroke="#111" stroke-width="0.105">0</text>
<text x="527.20" y="16.40" font-size="4.05" text-anchor="start" fill="#000" font-weight="bold" stroke="#000" stroke-width="0.105">histology</text>
<rect x="527.2" y="19.40" width="5.5" height="5.59" fill="#E08BF3" stroke="#8C8C8C" stroke-width="0.32"/>
<text x="534.60" y="23.60" font-size="4.05" text-anchor="start" fill="#111" stroke="#111" stroke-width="0.105">ADH</text>
<rect x="527.2" y="24.99" width="5.5" height="5.59" fill="#1CC8B8" stroke="#8C8C8C" stroke-width="0.32"/>
<text x="534.60" y="29.19" font-size="4.05" text-anchor="start" fill="#111" stroke="#111" stroke-width="0.105">ALH</text>
<rect x="527.2" y="30.58" width="5.5" height="5.59" fill="#F07BEF" stroke="#8C8C8C" stroke-width="0.32"/>
<text x="534.60" y="34.78" font-size="4.05" text-anchor="start" fill="#111" stroke="#111" stroke-width="0.105">DCIS</text>
<rect x="527.2" y="36.17" width="5.5" height="5.59" fill="#10CA4E" stroke="#8C8C8C" stroke-width="0.32"/>
<text x="534.60" y="40.37" font-size="4.05" text-anchor="start" fill="#111" stroke="#111" stroke-width="0.105">FA</text>
<rect x="527.2" y="41.76" width="5.5" height="5.59" fill="#6DC016" stroke="#8C8C8C" stroke-width="0.32"/>
<text x="534.60" y="45.96" font-size="4.05" text-anchor="start" fill="#111" stroke="#111" stroke-width="0.105">FC</text>
<rect x="527.2" y="47.35" width="5.5" height="5.59" fill="#FB6CB7" stroke="#8C8C8C" stroke-width="0.32"/>
<text x="534.60" y="51.55" font-size="4.05" text-anchor="start" fill="#111" stroke="#111" stroke-width="0.105">FEA</text>
<rect x="527.2" y="52.94" width="5.5" height="5.59" fill="#0CC77E" stroke="#8C8C8C" stroke-width="0.32"/>
<text x="534.60" y="57.14" font-size="4.05" text-anchor="start" fill="#111" stroke="#111" stroke-width="0.105">IDC</text>
<rect x="527.2" y="58.53" width="5.5" height="5.59" fill="#19C0EA" stroke="#8C8C8C" stroke-width="0.32"/>
<text x="534.60" y="62.73" font-size="4.05" text-anchor="start" fill="#111" stroke="#111" stroke-width="0.105">ILC</text>
<rect x="527.2" y="64.12" width="5.5" height="5.59" fill="#B8B414" stroke="#8C8C8C" stroke-width="0.32"/>
<text x="534.60" y="68.32" font-size="4.05" text-anchor="start" fill="#111" stroke="#111" stroke-width="0.105">IP</text>
<rect x="527.2" y="69.71" width="5.5" height="5.59" fill="#58B2FB" stroke="#8C8C8C" stroke-width="0.32"/>
<text x="534.60" y="73.91" font-size="4.05" text-anchor="start" fill="#111" stroke="#111" stroke-width="0.105">MC</text>
<rect x="527.2" y="75.30" width="5.5" height="5.59" fill="#FB9B3A" stroke="#8C8C8C" stroke-width="0.32"/>
<text x="534.60" y="79.50" font-size="4.05" text-anchor="start" fill="#111" stroke="#111" stroke-width="0.105">SA</text>
<text x="527.20" y="89.30" font-size="4.05" text-anchor="start" fill="#000" font-weight="bold" stroke="#000" stroke-width="0.105">condition</text>
<rect x="527.2" y="90.80" width="5.5" height="5.65" fill="#F96EE6" stroke="#8C8C8C" stroke-width="0.32"/>
<text x="534.60" y="95.00" font-size="4.05" text-anchor="start" fill="#111" stroke="#111" stroke-width="0.105">Be</text>
<rect x="527.2" y="96.45" width="5.5" height="5.65" fill="#F38B85" stroke="#8C8C8C" stroke-width="0.32"/>
<text x="534.60" y="100.65" font-size="4.05" text-anchor="start" fill="#111" stroke="#111" stroke-width="0.105">CA</text>
<rect x="527.2" y="102.10" width="5.5" height="5.65" fill="#14CFE6" stroke="#8C8C8C" stroke-width="0.32"/>
<text x="534.60" y="106.30" font-size="4.05" text-anchor="start" fill="#111" stroke="#111" stroke-width="0.105">HB</text>
<rect x="527.2" y="107.75" width="5.5" height="5.65" fill="#F3A713" stroke="#8C8C8C" stroke-width="0.32"/>
<text x="534.60" y="111.95" font-size="4.05" text-anchor="start" fill="#111" stroke="#111" stroke-width="0.105">MB</text>
<path d="M266.40 33.50L266.40 59.40M266.40 46.45L259.90 46.45M264.00 105.40L264.00 173.00M264.00 139.20L259.90 139.20M259.90 46.45L259.90 139.20M259.90 92.82L249.00 92.82M265.40 227.70L265.40 243.80M265.40 235.75L259.90 235.75M264.00 267.50L264.00 316.00M264.00 291.75L259.90 291.75M259.90 235.75L259.90 291.75M259.90 263.75L249.00 263.75M249.00 92.82L249.00 263.75" fill="none" stroke="#6E6E6E" stroke-width="0.5"/>
<path d="M270.30 35.08L269.42 35.08M270.30 39.21L269.42 39.21M269.42 35.08L269.42 39.21M270.30 30.94L268.91 30.94M269.42 37.14L268.91 37.14M268.91 30.94L268.91 37.14M270.30 26.81L268.54 26.81M268.91 34.04L268.54 34.04M268.54 26.81L268.54 34.04M268.54 30.43L266.40 30.43M266.40 30.43L266.40 33.50M270.30 55.75L269.67 55.75M270.30 59.89L269.67 59.89M269.67 55.75L269.67 59.89M270.30 68.16L269.29 68.16M270.30 72.29L269.29 72.29M269.29 68.16L269.29 72.29M270.30 64.02L268.84 64.02M269.29 70.22L268.84 70.22M268.84 64.02L268.84 70.22M268.84 67.12L268.37 67.12M270.30 76.43L268.37 76.43M268.37 67.12L268.37 76.43M269.67 57.82L267.70 57.82M268.37 71.78L267.70 71.78M267.70 57.82L267.70 71.78M267.70 64.80L267.11 64.80M270.30 80.56L267.11 80.56M267.11 64.80L267.11 80.56M267.11 72.68L267.00 72.68M270.30 84.70L267.00 84.70M267.00 72.68L267.00 84.70M270.30 51.62L267.00 51.62M267.00 78.69L267.00 78.69M267.00 51.62L267.00 78.69M270.30 47.48L267.00 47.48M267.00 65.15L267.00 65.15M267.00 47.48L267.00 65.15M270.30 43.35L267.00 43.35M267.00 56.32L267.00 56.32M267.00 43.35L267.00 56.32M267.00 49.83L266.40 49.83M266.40 49.83L266.40 59.40M270.30 97.10L269.81 97.10M270.30 101.24L269.81 101.24M269.81 97.10L269.81 101.24M270.30 92.97L269.23 92.97M269.81 99.17L269.23 99.17M269.23 92.97L269.23 99.17M270.30 88.83L268.20 88.83M269.23 96.07L268.20 96.07M268.20 88.83L268.20 96.07M270.30 117.78L269.65 117.78M270.30 121.91L269.65 121.91M269.65 117.78L269.65 121.91M270.30 113.64L268.77 113.64M269.65 119.84L268.77 119.84M268.77 113.64L268.77 119.84M270.30 109.51L268.39 109.51M268.77 116.74L268.39 116.74M268.39 109.51L268.39 116.74M270.30 105.37L267.15 105.37M268.39 113.13L267.15 113.13M267.15 105.37L267.15 113.13M268.20 92.45L266.70 92.45M267.15 109.25L266.70 109.25M266.70 92.45L266.70 109.25M266.70 100.85L264.00 100.85M264.00 100.85L264.00 105.40M270.30 134.32L269.93 134.32M270.30 138.45L269.93 138.45M269.93 134.32L269.93 138.45M269.93 136.38L269.02 136.38M270.30 142.59L269.02 142.59M269.02 136.38L269.02 142.59M270.30 146.72L269.98 146.72M270.30 150.86L269.98 150.86M269.98 146.72L269.98 150.86M270.30 154.99L269.30 154.99M270.30 159.13L269.30 159.13M269.30 154.99L269.30 159.13M269.98 148.79L268.89 148.79M269.30 157.06L268.89 157.06M268.89 148.79L268.89 157.06M269.02 139.49L268.15 139.49M268.89 152.93L268.15 152.93M268.15 139.49L268.15 152.93M268.15 146.21L267.09 146.21M270.30 163.26L267.09 163.26M267.09 146.21L267.09 163.26M270.30 130.18L265.64 130.18M267.09 154.73L265.64 154.73M265.64 130.18L265.64 154.73M265.64 142.46L264.79 142.46M270.30 167.40L264.79 167.40M264.79 142.46L264.79 167.40M264.79 154.93L264.70 154.93M270.30 171.53L264.70 171.53M264.70 154.93L264.70 171.53M270.30 126.05L264.70 126.05M264.70 163.23L264.70 163.23M264.70 126.05L264.70 163.23M270.30 183.94L269.89 183.94M270.30 188.07L269.89 188.07M269.89 183.94L269.89 188.07M269.89 186.00L269.54 186.00M270.30 192.21L269.54 192.21M269.54 186.00L269.54 192.21M270.30 179.80L268.36 179.80M269.54 189.11L268.36 189.11M268.36 179.80L268.36 189.11M270.30 175.67L267.53 175.67M268.36 184.45L267.53 184.45M267.53 175.67L267.53 184.45M270.30 196.34L269.90 196.34M270.30 200.48L269.90 200.48M269.90 196.34L269.90 200.48M269.90 198.41L268.80 198.41M270.30 204.61L268.80 204.61M268.80 198.41L268.80 204.61M270.30 208.75L269.53 208.75M270.30 212.88L269.53 212.88M269.53 208.75L269.53 212.88M268.80 201.51L267.72 201.51M269.53 210.81L267.72 210.81M267.72 201.51L267.72 210.81M267.72 206.16L267.03 206.16M270.30 217.02L267.03 217.02M267.03 206.16L267.03 217.02M267.53 180.06L266.31 180.06M267.03 211.59L266.31 211.59M266.31 180.06L266.31 211.59M264.70 144.64L264.70 144.64M266.31 195.83L264.70 195.83M264.70 144.64L264.70 195.83M264.70 170.23L264.00 170.23M264.00 170.23L264.00 173.00M270.30 221.15L269.42 221.15M270.30 225.29L269.42 225.29M269.42 221.15L269.42 225.29M270.30 233.56L269.97 233.56M270.30 237.69L269.97 237.69M269.97 233.56L269.97 237.69M270.30 229.42L269.32 229.42M269.97 235.62L269.32 235.62M269.32 229.42L269.32 235.62M269.42 223.22L268.84 223.22M269.32 232.52L268.84 232.52M268.84 223.22L268.84 232.52M268.84 227.87L265.40 227.87M265.40 227.87L265.40 227.70M270.30 241.83L269.49 241.83M270.30 245.96L269.49 245.96M269.49 241.83L269.49 245.96M269.49 243.89L268.92 243.89M270.30 250.10L268.92 250.10M268.92 243.89L268.92 250.10M268.92 247.00L268.36 247.00M270.30 254.23L268.36 254.23M268.36 247.00L268.36 254.23M268.36 250.61L265.40 250.61M265.40 250.61L265.40 243.80M270.30 266.64L269.74 266.64M270.30 270.77L269.74 270.77M269.74 266.64L269.74 270.77M269.74 268.70L268.96 268.70M270.30 274.91L268.96 274.91M268.96 268.70L268.96 274.91M270.30 262.50L268.60 262.50M268.96 271.81L268.60 271.81M268.60 262.50L268.60 271.81M268.60 267.15L267.97 267.15M270.30 279.04L267.97 279.04M267.97 267.15L267.97 279.04M270.30 283.18L269.59 283.18M270.30 287.31L269.59 287.31M269.59 283.18L269.59 287.31M267.97 273.10L266.90 273.10M269.59 285.25L266.90 285.25M266.90 273.10L266.90 285.25M270.30 291.45L269.47 291.45M270.30 295.58L269.47 295.58M269.47 291.45L269.47 295.58M269.47 293.51L268.39 293.51M270.30 299.72L268.39 299.72M268.39 293.51L268.39 299.72M266.90 279.17L266.06 279.17M268.39 296.62L266.06 296.62M266.06 279.17L266.06 296.62M270.30 258.37L265.37 258.37M266.06 287.89L265.37 287.89M265.37 258.37L265.37 287.89M265.37 273.13L264.00 273.13M264.00 273.13L264.00 267.50M270.30 303.85L269.50 303.85M270.30 307.99L269.50 307.99M269.50 303.85L269.50 307.99M269.50 305.92L268.90 305.92M270.30 312.12L268.90 312.12M268.90 305.92L268.90 312.12M270.30 316.26L269.35 316.26M270.30 320.39L269.35 320.39M269.35 316.26L269.35 320.39M269.35 318.32L268.49 318.32M270.30 324.53L268.49 324.53M268.49 318.32L268.49 324.53M270.30 328.66L269.27 328.66M270.30 332.80L269.27 332.80M269.27 328.66L269.27 332.80M268.49 321.43L267.27 321.43M269.27 330.73L267.27 330.73M267.27 321.43L267.27 330.73M268.90 309.02L266.31 309.02M267.27 326.08L266.31 326.08M266.31 309.02L266.31 326.08M266.31 317.55L265.28 317.55M270.30 336.93L265.28 336.93M265.28 317.55L265.28 336.93M265.28 327.24L264.00 327.24M264.00 327.24L264.00 316.00" fill="none" stroke="#808080" stroke-width="0.38"/>
</g>
<g id="panelD">
<text x="29.60" y="202.90" font-size="12.2" text-anchor="start" fill="#000">D</text>
<path d="M120.0 251.2Q92.5 255.2 76.9 278.1M120.0 251.2Q92.3 251.5 73.7 272.2M120.0 251.2Q92.5 247.9 71.4 265.9M120.0 251.2Q93.1 244.2 69.9 259.4M120.0 251.2Q94.3 240.8 69.2 252.7M120.0 251.2Q95.9 237.5 69.5 245.9M120.0 251.2Q97.9 234.4 70.6 239.3M120.0 251.2Q100.3 231.6 72.6 232.9M120.0 251.2Q103.1 229.2 75.4 226.8M120.0 251.2Q106.1 227.2 79.1 221.1M120.0 251.2Q109.4 225.5 83.4 216.0M120.0 251.2Q112.9 224.4 88.4 211.5M120.0 251.2Q116.5 223.7 93.9 207.6M120.0 251.2Q120.2 223.5 99.9 204.6M120.0 251.2Q123.9 223.7 106.2 202.3M120.0 251.2Q127.4 224.5 112.8 200.9M120.0 251.2Q130.9 225.7 119.5 200.4M120.0 251.2Q134.2 227.4 126.2 200.8M120.0 251.2Q97.4 254.5 84.6 273.4M120.0 251.2Q97.2 250.5 81.3 266.9M120.0 251.2Q97.6 246.6 79.1 260.0M120.0 251.2Q98.8 242.8 78.2 252.8M120.0 251.2Q100.5 239.3 78.6 245.6M120.0 251.2Q102.9 236.1 80.2 238.6M120.0 251.2Q105.7 233.4 82.9 231.9M120.0 251.2Q109.0 231.2 86.8 225.8M120.0 251.2Q112.6 229.6 91.7 220.4M120.0 251.2Q116.5 228.6 97.4 216.0M120.0 251.2Q120.4 228.4 103.8 212.7M120.0 251.2Q124.3 228.8 110.7 210.4M120.0 251.2Q128.1 229.9 117.9 209.5M120.0 251.2Q131.7 231.6 125.1 209.7M120.0 251.2Q102.2 253.8 92.0 268.7M120.0 251.2Q102.1 249.3 88.6 261.2M120.0 251.2Q103.1 244.9 87.1 253.1M120.0 251.2Q105.2 240.9 87.6 244.9M120.0 251.2Q108.2 237.6 90.2 237.1M120.0 251.2Q111.9 235.1 94.6 230.1M120.0 251.2Q116.2 233.6 100.6 224.5M120.0 251.2Q120.7 233.2 107.8 220.5M120.0 251.2Q125.1 233.9 115.8 218.5M120.0 251.2Q129.2 235.7 124.0 218.4M159.4 289.9Q187.7 300.1 214.3 286.1M159.4 289.9Q186.3 303.3 214.3 292.6M159.4 289.9Q184.5 306.4 213.6 299.1M159.4 289.9Q182.3 309.3 212.1 305.5M159.4 289.9Q179.9 311.9 209.9 311.6M159.4 289.9Q177.1 314.2 207.0 317.5M159.4 289.9Q174.1 316.1 203.4 323.0M159.4 289.9Q170.9 317.7 199.1 327.9M159.4 289.9Q167.5 318.8 194.3 332.4M159.4 289.9Q164.0 319.6 189.0 336.2M159.4 289.9Q160.5 319.9 183.3 339.4M159.4 289.9Q156.9 319.8 177.3 341.9M159.4 289.9Q153.3 319.3 170.9 343.7M159.4 289.9Q149.9 318.4 164.5 344.7M159.4 289.9Q146.6 317.1 157.9 344.9M159.4 289.9Q143.4 315.4 151.4 344.3M159.4 289.9Q140.5 313.3 145.0 343.0M159.4 289.9Q137.9 310.9 138.8 340.9M159.4 289.9Q183.0 298.4 205.3 286.7M159.4 289.9Q181.4 302.0 205.2 293.8M159.4 289.9Q179.3 305.2 204.1 300.9M159.4 289.9Q176.7 308.1 201.8 307.7M159.4 289.9Q173.7 310.6 198.5 314.1M159.4 289.9Q170.3 312.6 194.3 319.8M159.4 289.9Q166.6 314.0 189.3 324.9M159.4 289.9Q162.8 314.8 183.5 329.1M159.4 289.9Q158.9 315.0 177.1 332.4M159.4 289.9Q155.0 314.6 170.3 334.6M159.4 289.9Q151.2 313.7 163.2 335.7M159.4 289.9Q147.6 312.1 156.1 335.8M159.4 289.9Q144.3 310.0 149.0 334.7M159.4 289.9Q141.4 307.4 142.2 332.6M159.4 289.9Q178.7 296.8 196.8 287.3M159.4 289.9Q176.9 300.6 196.6 294.9M159.4 289.9Q174.4 303.9 194.8 302.2M159.4 289.9Q171.3 306.6 191.6 309.1M159.4 289.9Q167.7 308.6 187.1 315.2M159.4 289.9Q163.7 309.9 181.4 320.2M159.4 289.9Q159.6 310.4 174.9 324.1M159.4 289.9Q155.5 310.0 167.7 326.5M159.4 289.9Q151.5 308.8 160.2 327.4M159.4 289.9Q147.9 306.9 152.6 326.8M159.4 289.9Q144.7 304.2 145.4 324.7M120.0 251.2Q133.2 244.6 142.0 232.7M159.4 289.9Q143.8 263.4 142.0 232.7M120.0 251.2Q135.8 246.1 147.6 234.4M159.4 289.9Q146.8 263.6 147.6 234.4M120.0 251.2Q134.2 248.1 145.4 238.9M159.4 289.9Q146.3 266.1 145.4 238.9M120.0 251.2Q138.1 248.9 153.2 238.6M159.4 289.9Q150.1 265.0 153.2 238.6M120.0 251.2Q140.5 250.8 158.6 241.1M159.4 289.9Q153.2 265.6 158.6 241.1M120.0 251.2Q134.6 251.2 147.6 244.5M159.4 289.9Q148.1 268.6 147.6 244.5M120.0 251.2Q137.4 251.8 153.2 244.5M159.4 289.9Q150.9 268.0 153.2 244.5M120.0 251.2Q143.4 251.9 164.5 242.0M159.4 289.9Q156.2 265.3 164.5 242.0M120.0 251.2Q146.7 252.0 171.0 240.6M159.4 289.9Q159.3 263.9 171.0 240.6M120.0 251.2Q149.2 253.6 176.4 242.5M159.4 289.9Q162.2 264.2 176.4 242.5M120.0 251.2Q138.3 254.3 156.1 248.8M159.4 289.9Q152.8 269.7 156.1 248.8M120.0 251.2Q141.3 254.1 161.7 247.1M159.4 289.9Q155.4 268.2 161.7 247.1M120.0 251.2Q144.5 254.7 167.9 246.7M159.4 289.9Q158.5 267.3 167.9 246.7M120.0 251.2Q147.3 256.0 173.8 247.9M159.4 289.9Q161.6 267.2 173.8 247.9M120.0 251.2Q149.6 258.4 179.2 251.3M159.4 289.9Q164.7 268.2 179.2 251.3M120.0 251.2Q136.2 255.6 152.7 252.1M159.4 289.9Q151.5 271.8 152.7 252.1M120.0 251.2Q139.0 257.0 158.6 253.5M159.4 289.9Q154.6 271.8 158.6 253.5M120.0 251.2Q142.2 256.8 164.5 251.8M159.4 289.9Q157.4 270.2 164.5 251.8M120.0 251.2Q145.1 257.9 170.5 252.5M159.4 289.9Q160.4 269.9 170.5 252.5M120.0 251.2Q147.9 259.3 176.4 253.8M159.4 289.9Q163.6 269.8 176.4 253.8M120.0 251.2Q136.7 259.1 155.2 258.6M159.4 289.9Q153.6 274.7 155.2 258.6M120.0 251.2Q139.3 260.4 160.6 259.8M159.4 289.9Q156.4 274.7 160.6 259.8M120.0 251.2Q142.5 259.3 166.2 256.4M159.4 289.9Q158.8 272.3 166.2 256.4M120.0 251.2Q145.1 260.6 171.8 257.6M159.4 289.9Q161.7 272.2 171.8 257.6M120.0 251.2Q147.9 261.8 177.6 258.6M159.4 289.9Q164.7 272.1 177.6 258.6M120.0 251.2Q141.5 261.8 165.4 261.4M159.4 289.9Q159.0 275.0 165.4 261.4M120.0 251.2Q144.3 262.9 171.3 262.3M159.4 289.9Q162.0 274.7 171.3 262.3M120.0 251.2Q148.9 264.4 180.6 263.1M159.4 289.9Q166.8 274.0 180.6 263.1M120.0 251.2Q146.1 265.6 175.9 266.5M159.4 289.9Q164.8 276.2 175.9 266.5M120.0 251.2Q131.7 250.9 142.0 245.4M159.4 289.9Q145.4 269.7 142.0 245.4M120.0 251.2Q132.1 254.2 144.2 251.3M159.4 289.9Q147.2 272.4 144.2 251.3M120.0 251.2Q134.0 257.3 149.3 256.4M159.4 289.9Q150.3 274.3 149.3 256.4M159.4 289.9Q173.9 261.9 202.9 249.6M159.4 289.9Q177.7 262.9 209.0 253.8M159.4 289.9Q174.5 264.6 202.3 254.7M159.4 289.9Q174.4 267.8 200.1 260.3M159.4 289.9Q177.3 266.1 206.3 259.2M159.4 289.9Q179.8 267.0 210.2 262.3M159.4 289.9Q175.9 270.7 200.9 266.5M159.4 289.9Q178.6 268.8 206.8 264.8M159.4 289.9Q131.6 293.5 109.7 311.0M120.0 251.2Q123.2 282.5 109.7 311.0M159.4 289.9Q131.4 290.0 107.5 304.7M120.0 251.2Q121.2 279.7 107.5 304.7M159.4 289.9Q131.6 286.5 106.0 298.1M120.0 251.2Q119.6 276.6 106.0 298.1M159.4 289.9Q132.2 283.1 105.4 291.4M120.0 251.2Q118.3 273.3 105.4 291.4M159.4 289.9Q133.3 279.8 105.7 284.7M120.0 251.2Q117.5 269.9 105.7 284.7M159.4 289.9Q134.7 276.6 106.7 278.0M120.0 251.2Q117.1 266.5 106.7 278.0M159.4 289.9Q136.6 273.6 108.6 271.6M120.0 251.2Q117.2 263.0 108.6 271.6M159.4 289.9Q138.8 270.9 111.3 265.4M120.0 251.2Q117.6 259.5 111.3 265.4M159.4 289.9Q135.0 293.5 116.0 309.2M120.0 251.2Q126.1 280.8 116.0 309.2M159.4 289.9Q134.7 289.9 113.7 302.7M120.0 251.2Q124.0 277.9 113.7 302.7M159.4 289.9Q135.0 286.3 112.3 296.0M120.0 251.2Q122.4 274.7 112.3 296.0M159.4 289.9Q135.8 282.8 111.9 289.1M120.0 251.2Q121.3 271.3 111.9 289.1M159.4 289.9Q137.0 279.5 112.5 282.2M120.0 251.2Q120.6 267.7 112.5 282.2M159.4 289.9Q138.8 276.4 114.1 275.5M120.0 251.2Q120.5 264.2 114.1 275.5M159.4 289.9Q141.0 273.5 116.7 269.1M120.0 251.2Q120.9 260.6 116.7 269.1M159.4 289.9Q138.3 293.0 121.9 306.6M120.0 251.2Q128.7 278.6 121.9 306.6M159.4 289.9Q138.1 289.3 119.6 299.8M120.0 251.2Q126.6 275.6 119.6 299.8M159.4 289.9Q138.5 285.6 118.5 292.8M120.0 251.2Q125.1 272.2 118.5 292.8M159.4 289.9Q139.6 282.0 118.6 285.6M120.0 251.2Q124.1 268.6 118.6 285.6M159.4 289.9Q141.3 278.7 120.0 278.6M120.0 251.2Q123.8 264.9 120.0 278.6M159.4 289.9Q143.5 275.8 122.5 271.9M120.0 251.2Q124.2 261.2 122.5 271.9M159.4 289.9Q141.7 292.8 128.1 304.5M120.0 251.2Q131.5 276.7 128.1 304.5M159.4 289.9Q141.5 289.5 126.0 298.5M120.0 251.2Q129.6 274.0 126.0 298.5M159.4 289.9Q141.9 286.2 125.0 292.2M120.0 251.2Q128.2 271.0 125.0 292.2M159.4 289.9Q142.8 283.1 125.1 285.8M120.0 251.2Q127.4 267.8 125.1 285.8M159.4 289.9Q144.4 280.1 126.5 279.6M120.0 251.2Q127.2 264.5 126.5 279.6M159.4 289.9Q146.4 277.5 128.9 273.7M120.0 251.2Q127.6 261.2 128.9 273.7M159.4 289.9Q145.1 292.3 134.0 301.7M120.0 251.2Q134.1 274.5 134.0 301.7M159.4 289.9Q144.9 288.8 131.9 295.4M120.0 251.2Q132.2 271.6 131.9 295.4M159.4 289.9Q145.6 285.4 131.4 288.7M120.0 251.2Q131.0 268.3 131.4 288.7M159.4 289.9Q147.1 282.2 132.5 282.1M120.0 251.2Q130.6 264.9 132.5 282.1M159.4 289.9Q149.2 279.5 135.2 275.9M120.0 251.2Q131.0 261.4 135.2 275.9M159.4 289.9Q148.2 289.8 138.6 295.5M120.0 251.2Q135.5 270.7 138.6 295.5M159.4 289.9Q149.0 286.0 138.0 288.0M120.0 251.2Q134.1 267.1 138.0 288.0M159.4 289.9Q150.9 282.6 139.9 280.8M120.0 251.2Q134.1 263.2 139.9 280.8M120.0 251.2Q133.4 230.2 157.6 224.3M159.4 289.9Q165.1 256.9 157.6 224.3" fill="none" stroke="#F3A2A2" stroke-width="0.48" stroke-opacity="0.9"/>
<path d="M194.6 231.7Q186.1 208.1 196.2 185.2M194.6 231.7Q189.9 207.1 203.4 186.0M194.6 231.7Q193.7 206.7 210.3 187.9M194.6 231.7Q197.6 206.8 216.9 190.9M194.6 231.7Q201.4 207.6 222.9 194.8M194.6 231.7Q205.0 208.9 228.3 199.6M194.6 231.7Q208.4 210.8 232.8 205.2M194.6 231.7Q211.5 213.2 236.4 211.4M194.6 231.7Q214.1 216.0 239.1 218.1M194.6 231.7Q187.6 212.2 195.9 193.2M194.6 231.7Q191.7 211.2 203.8 194.3M194.6 231.7Q196.0 211.0 211.3 197.0M194.6 231.7Q200.2 211.7 218.0 201.2M194.6 231.7Q204.2 213.3 223.8 206.6M194.6 231.7Q207.8 215.7 228.3 213.1M194.6 231.7Q210.8 218.7 231.4 220.4M194.6 231.7Q166.3 228.1 149.8 204.8M194.6 231.7Q170.4 228.6 156.3 208.6M194.6 231.7Q172.9 225.2 163.0 204.8M194.6 231.7Q168.2 224.8 142.0 232.7M194.6 231.7Q170.7 226.5 147.6 234.4M194.6 231.7Q169.0 228.4 145.4 238.9M194.6 231.7Q172.9 229.4 153.2 238.6M194.6 231.7Q175.3 231.4 158.6 241.1M194.6 231.7Q169.3 231.5 147.6 244.5M194.6 231.7Q172.1 232.3 153.2 244.5M194.6 231.7Q178.1 232.6 164.5 242.0M194.6 231.7Q181.5 232.9 171.0 240.6M194.6 231.7Q184.0 234.5 176.4 242.5M194.6 231.7Q172.9 234.8 156.1 248.8M194.6 231.7Q176.0 234.8 161.7 247.1M194.6 231.7Q179.2 235.5 167.9 246.7M194.6 231.7Q181.9 236.9 173.8 247.9M194.6 231.7Q184.2 239.3 179.2 251.3M194.6 231.7Q170.8 236.1 152.7 252.1M194.6 231.7Q173.6 237.6 158.6 253.5M194.6 231.7Q176.8 237.5 164.5 251.8M194.6 231.7Q179.6 238.7 170.5 252.5M194.6 231.7Q182.4 240.2 176.4 253.8M194.6 231.7Q171.2 239.6 155.2 258.6M194.6 231.7Q173.7 241.0 160.6 259.8M194.6 231.7Q177.0 240.1 166.2 256.4M194.6 231.7Q179.6 241.4 171.8 257.6M194.6 231.7Q182.3 242.8 177.6 258.6M194.6 231.7Q175.8 242.5 165.4 261.4M194.6 231.7Q178.7 243.7 171.3 262.3M194.6 231.7Q183.2 245.5 180.6 263.1M194.6 231.7Q180.4 246.5 175.9 266.5M194.6 231.7Q166.4 231.2 142.0 245.4M194.6 231.7Q166.7 234.4 144.2 251.3M194.6 231.7Q168.5 237.7 149.3 256.4M194.6 231.7Q200.9 239.7 202.9 249.6M194.6 231.7Q204.5 241.0 209.0 253.8M194.6 231.7Q201.2 242.3 202.3 254.7M194.6 231.7Q200.8 245.3 200.1 260.3M194.6 231.7Q203.8 244.1 206.3 259.2M194.6 231.7Q206.1 245.1 210.2 262.3M194.6 231.7Q201.9 248.4 200.9 266.5M194.6 231.7Q204.7 246.8 206.8 264.8M194.6 231.7Q177.6 220.6 157.6 224.3" fill="none" stroke="#86CDA3" stroke-width="0.48" stroke-opacity="0.95"/>
<path d="M75.9 277.1h2.0v2.0h-2.0zM72.7 271.2h2.0v2.0h-2.0zM70.4 264.9h2.0v2.0h-2.0zM68.9 258.4h2.0v2.0h-2.0zM68.2 251.7h2.0v2.0h-2.0zM68.5 244.9h2.0v2.0h-2.0zM69.6 238.3h2.0v2.0h-2.0zM71.6 231.9h2.0v2.0h-2.0zM74.4 225.8h2.0v2.0h-2.0zM78.1 220.1h2.0v2.0h-2.0zM82.4 215.0h2.0v2.0h-2.0zM87.4 210.5h2.0v2.0h-2.0zM92.9 206.6h2.0v2.0h-2.0zM98.9 203.6h2.0v2.0h-2.0zM105.2 201.3h2.0v2.0h-2.0zM111.8 199.9h2.0v2.0h-2.0zM118.5 199.4h2.0v2.0h-2.0zM125.2 199.8h2.0v2.0h-2.0zM83.6 272.4h2.0v2.0h-2.0zM80.3 265.9h2.0v2.0h-2.0zM78.1 259.0h2.0v2.0h-2.0zM77.2 251.8h2.0v2.0h-2.0zM77.6 244.6h2.0v2.0h-2.0zM79.2 237.6h2.0v2.0h-2.0zM81.9 230.9h2.0v2.0h-2.0zM85.8 224.8h2.0v2.0h-2.0zM90.7 219.4h2.0v2.0h-2.0zM96.4 215.0h2.0v2.0h-2.0zM102.8 211.7h2.0v2.0h-2.0zM109.7 209.4h2.0v2.0h-2.0zM116.9 208.5h2.0v2.0h-2.0zM124.1 208.7h2.0v2.0h-2.0zM91.0 267.7h2.0v2.0h-2.0zM87.6 260.2h2.0v2.0h-2.0zM86.1 252.1h2.0v2.0h-2.0zM86.6 243.9h2.0v2.0h-2.0zM89.2 236.1h2.0v2.0h-2.0zM93.6 229.1h2.0v2.0h-2.0zM99.6 223.5h2.0v2.0h-2.0zM106.8 219.5h2.0v2.0h-2.0zM114.8 217.5h2.0v2.0h-2.0zM123.0 217.4h2.0v2.0h-2.0zM213.3 285.1h2.0v2.0h-2.0zM213.3 291.6h2.0v2.0h-2.0zM212.6 298.1h2.0v2.0h-2.0zM211.1 304.5h2.0v2.0h-2.0zM208.9 310.6h2.0v2.0h-2.0zM206.0 316.5h2.0v2.0h-2.0zM202.4 322.0h2.0v2.0h-2.0zM198.1 326.9h2.0v2.0h-2.0zM193.3 331.4h2.0v2.0h-2.0zM188.0 335.2h2.0v2.0h-2.0zM182.3 338.4h2.0v2.0h-2.0zM176.3 340.9h2.0v2.0h-2.0zM169.9 342.7h2.0v2.0h-2.0zM163.5 343.7h2.0v2.0h-2.0zM156.9 343.9h2.0v2.0h-2.0zM150.4 343.3h2.0v2.0h-2.0zM144.0 342.0h2.0v2.0h-2.0zM137.8 339.9h2.0v2.0h-2.0zM204.3 285.7h2.0v2.0h-2.0zM204.2 292.8h2.0v2.0h-2.0zM203.1 299.9h2.0v2.0h-2.0zM200.8 306.7h2.0v2.0h-2.0zM197.5 313.1h2.0v2.0h-2.0zM193.3 318.8h2.0v2.0h-2.0zM188.3 323.9h2.0v2.0h-2.0zM182.5 328.1h2.0v2.0h-2.0zM176.1 331.4h2.0v2.0h-2.0zM169.3 333.6h2.0v2.0h-2.0zM162.2 334.7h2.0v2.0h-2.0zM155.1 334.8h2.0v2.0h-2.0zM148.0 333.7h2.0v2.0h-2.0zM141.2 331.6h2.0v2.0h-2.0zM195.8 286.3h2.0v2.0h-2.0zM195.6 293.9h2.0v2.0h-2.0zM193.8 301.2h2.0v2.0h-2.0zM190.6 308.1h2.0v2.0h-2.0zM186.1 314.2h2.0v2.0h-2.0zM180.4 319.2h2.0v2.0h-2.0zM173.9 323.1h2.0v2.0h-2.0zM166.7 325.5h2.0v2.0h-2.0zM159.2 326.4h2.0v2.0h-2.0zM151.6 325.8h2.0v2.0h-2.0zM144.4 323.7h2.0v2.0h-2.0zM141.0 231.7h2.0v2.0h-2.0zM146.6 233.4h2.0v2.0h-2.0zM144.4 237.9h2.0v2.0h-2.0zM152.2 237.6h2.0v2.0h-2.0zM157.6 240.1h2.0v2.0h-2.0zM146.6 243.5h2.0v2.0h-2.0zM152.2 243.5h2.0v2.0h-2.0zM163.5 241.0h2.0v2.0h-2.0zM170.0 239.6h2.0v2.0h-2.0zM175.4 241.5h2.0v2.0h-2.0zM155.1 247.8h2.0v2.0h-2.0zM160.7 246.1h2.0v2.0h-2.0zM166.9 245.7h2.0v2.0h-2.0zM172.8 246.9h2.0v2.0h-2.0zM178.2 250.3h2.0v2.0h-2.0zM151.7 251.1h2.0v2.0h-2.0zM157.6 252.5h2.0v2.0h-2.0zM163.5 250.8h2.0v2.0h-2.0zM169.5 251.5h2.0v2.0h-2.0zM175.4 252.8h2.0v2.0h-2.0zM154.2 257.6h2.0v2.0h-2.0zM159.6 258.8h2.0v2.0h-2.0zM165.2 255.4h2.0v2.0h-2.0zM170.8 256.6h2.0v2.0h-2.0zM176.6 257.6h2.0v2.0h-2.0zM164.4 260.4h2.0v2.0h-2.0zM170.3 261.3h2.0v2.0h-2.0zM179.6 262.1h2.0v2.0h-2.0zM174.9 265.5h2.0v2.0h-2.0zM141.0 244.4h2.0v2.0h-2.0zM143.2 250.3h2.0v2.0h-2.0zM148.3 255.4h2.0v2.0h-2.0zM201.9 248.6h2.0v2.0h-2.0zM208.0 252.8h2.0v2.0h-2.0zM201.3 253.7h2.0v2.0h-2.0zM199.1 259.3h2.0v2.0h-2.0zM205.3 258.2h2.0v2.0h-2.0zM209.2 261.3h2.0v2.0h-2.0zM199.9 265.5h2.0v2.0h-2.0zM205.8 263.8h2.0v2.0h-2.0zM108.7 310.0h2.0v2.0h-2.0zM106.5 303.7h2.0v2.0h-2.0zM105.0 297.1h2.0v2.0h-2.0zM104.4 290.4h2.0v2.0h-2.0zM104.7 283.7h2.0v2.0h-2.0zM105.7 277.0h2.0v2.0h-2.0zM107.6 270.6h2.0v2.0h-2.0zM110.3 264.4h2.0v2.0h-2.0zM115.0 308.2h2.0v2.0h-2.0zM112.7 301.7h2.0v2.0h-2.0zM111.3 295.0h2.0v2.0h-2.0zM110.9 288.1h2.0v2.0h-2.0zM111.5 281.2h2.0v2.0h-2.0zM113.1 274.5h2.0v2.0h-2.0zM115.7 268.1h2.0v2.0h-2.0zM120.9 305.6h2.0v2.0h-2.0zM118.6 298.8h2.0v2.0h-2.0zM117.5 291.8h2.0v2.0h-2.0zM117.6 284.6h2.0v2.0h-2.0zM119.0 277.6h2.0v2.0h-2.0zM121.5 270.9h2.0v2.0h-2.0zM127.1 303.5h2.0v2.0h-2.0zM125.0 297.5h2.0v2.0h-2.0zM124.0 291.2h2.0v2.0h-2.0zM124.1 284.8h2.0v2.0h-2.0zM125.5 278.6h2.0v2.0h-2.0zM127.9 272.7h2.0v2.0h-2.0zM133.0 300.7h2.0v2.0h-2.0zM130.9 294.4h2.0v2.0h-2.0zM130.4 287.7h2.0v2.0h-2.0zM131.5 281.1h2.0v2.0h-2.0zM134.2 274.9h2.0v2.0h-2.0zM137.6 294.5h2.0v2.0h-2.0zM137.0 287.0h2.0v2.0h-2.0zM138.9 279.8h2.0v2.0h-2.0z" fill="#F01818"/>
<path d="M195.2 184.2h2.0v2.0h-2.0zM202.4 185.0h2.0v2.0h-2.0zM209.3 186.9h2.0v2.0h-2.0zM215.9 189.9h2.0v2.0h-2.0zM221.9 193.8h2.0v2.0h-2.0zM227.3 198.6h2.0v2.0h-2.0zM231.8 204.2h2.0v2.0h-2.0zM235.4 210.4h2.0v2.0h-2.0zM238.1 217.1h2.0v2.0h-2.0zM194.9 192.2h2.0v2.0h-2.0zM202.8 193.3h2.0v2.0h-2.0zM210.3 196.0h2.0v2.0h-2.0zM217.0 200.2h2.0v2.0h-2.0zM222.8 205.6h2.0v2.0h-2.0zM227.3 212.1h2.0v2.0h-2.0zM230.4 219.4h2.0v2.0h-2.0zM148.8 203.8h2.0v2.0h-2.0zM155.3 207.6h2.0v2.0h-2.0zM162.0 203.8h2.0v2.0h-2.0z" fill="#1E9E3C"/>
<rect x="115.30" y="246.50" width="9.4" height="9.4" fill="#5E5E5E" stroke="#FBEE00" stroke-width="1.5"/>
<text x="120.00" y="253.92" font-size="8.5" text-anchor="middle" fill="#fff">a</text>
<rect x="189.90" y="227.00" width="9.4" height="9.4" fill="#5E5E5E" stroke="#FBEE00" stroke-width="1.5"/>
<text x="194.60" y="234.42" font-size="8.5" text-anchor="middle" fill="#fff">b</text>
<rect x="154.70" y="285.20" width="9.4" height="9.4" fill="#5E5E5E" stroke="#FBEE00" stroke-width="1.5"/>
<text x="159.40" y="292.62" font-size="8.5" text-anchor="middle" fill="#fff">c</text>
<polygon points="157.90,218.60 163.80,222.88 161.54,229.82 154.26,229.82 152.00,222.88" fill="#5E5E5E" stroke="#FBEE00" stroke-width="1.4" stroke-linejoin="miter"/>
<text x="166.00" y="225.10" font-size="3.4" text-anchor="start" fill="#222">Breast cancer</text>
<text x="202.30" y="233.00" font-size="3.4" text-anchor="start" fill="#222">hsa-mir-215</text>
<text x="127.60" y="252.40" font-size="3.4" text-anchor="start" fill="#222">hsa-mir-141</text>
<text x="167.80" y="291.10" font-size="3.4" text-anchor="start" fill="#222">hsa-mir-200a</text>
<polygon points="43.70,297.30 49.12,301.24 47.05,307.61 40.35,307.61 38.28,301.24" fill="#5E5E5E" stroke="#FBEE00" stroke-width="1.4" stroke-linejoin="miter"/>
<text x="52.80" y="304.90" font-size="6.3" text-anchor="start" fill="#1a1a1a" stroke="#1a1a1a" stroke-width="0.095">Breast cancer</text>
<rect x="39.95" y="310.95" width="7.5" height="7.5" fill="#5E5E5E" stroke="#FBEE00" stroke-width="1.6"/>
<text x="43.70" y="316.70" font-size="6.4" text-anchor="middle" fill="#fff">a</text>
<text x="52.80" y="316.90" font-size="6.3" text-anchor="start" fill="#1a1a1a" stroke="#1a1a1a" stroke-width="0.095">hsa-mir-141-3p</text>
<rect x="39.95" y="323.55" width="7.5" height="7.5" fill="#5E5E5E" stroke="#FBEE00" stroke-width="1.6"/>
<text x="43.70" y="329.30" font-size="6.4" text-anchor="middle" fill="#fff">b</text>
<text x="52.80" y="329.50" font-size="6.3" text-anchor="start" fill="#1a1a1a" stroke="#1a1a1a" stroke-width="0.095">hsa-mir-215-5p</text>
<rect x="39.95" y="335.95" width="7.5" height="7.5" fill="#5E5E5E" stroke="#FBEE00" stroke-width="1.6"/>
<text x="43.70" y="341.70" font-size="6.4" text-anchor="middle" fill="#fff">c</text>
<text x="52.80" y="341.90" font-size="6.3" text-anchor="start" fill="#1a1a1a" stroke="#1a1a1a" stroke-width="0.095">hsa-mir-200a-3p</text>
</g>
</svg>
</body></html>
